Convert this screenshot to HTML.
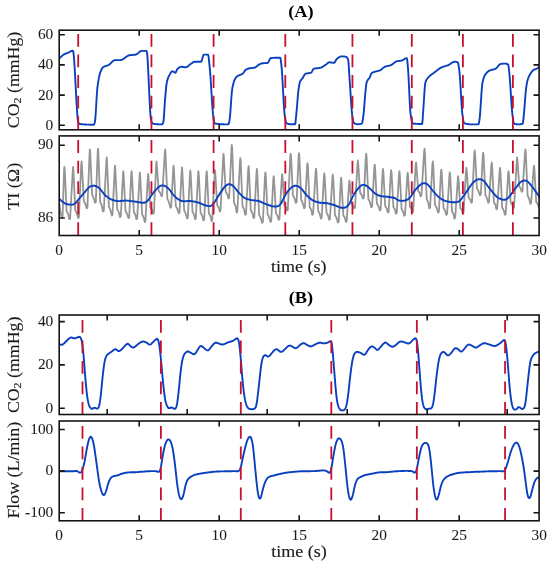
<!DOCTYPE html>
<html lang="en">
<head>
<meta charset="utf-8">
<title>Figure</title>
<style>
html,body{margin:0;padding:0;background:#fff;}
svg{display:block;}
text{font-family:"Liberation Serif","DejaVu Serif",serif;fill:#1a1a1a;stroke:#1a1a1a;stroke-width:0.3px;}
.tk{font-size:14px;stroke-width:0.05px;}
.lb{font-size:16.2px;stroke-width:0.12px;}
.sub{font-size:11px;}
.ti{font-size:16.4px;font-weight:bold;fill:#000;stroke:none;}
</style>
</head>
<body>
<svg width="550" height="565" viewBox="0 0 550 565">
<rect x="0" y="0" width="550" height="565" fill="#ffffff"/>
<clipPath id="c30"><rect x="59.2" y="30.2" width="479.90000000000003" height="99.60000000000001"/></clipPath>
<polyline clip-path="url(#c30)" points="59.0,58.9 59.4,58.4 59.8,58.0 60.2,57.6 60.6,57.1 61.0,56.7 61.4,56.4 61.8,56.0 62.2,55.7 62.6,55.3 63.0,55.1 63.4,54.8 63.8,54.5 64.2,54.3 64.6,54.1 65.0,53.9 65.4,53.8 65.8,53.6 66.2,53.4 66.6,53.3 67.0,53.1 67.4,53.0 67.8,52.8 68.2,52.7 68.6,52.5 69.0,52.3 69.4,52.0 69.8,51.8 70.2,51.6 70.6,51.4 71.0,51.2 71.4,51.0 71.8,50.9 72.2,50.8 72.6,50.7 73.0,50.8 73.4,52.3 73.8,55.7 74.2,60.6 74.6,66.7 75.0,73.7 75.4,81.2 75.8,88.9 76.2,96.5 76.6,103.8 77.0,110.3 77.4,115.7 77.8,119.8 78.2,122.2 78.6,123.1 79.0,123.6 79.4,123.8 79.8,123.9 80.2,124.0 80.6,124.1 81.0,124.2 81.4,124.2 81.8,124.3 82.2,124.3 82.6,124.3 83.0,124.4 83.4,124.4 83.8,124.4 84.2,124.4 84.6,124.5 85.0,124.5 85.4,124.5 85.8,124.5 86.2,124.5 86.6,124.6 87.0,124.6 87.4,124.6 87.8,124.6 88.2,124.6 88.6,124.6 89.0,124.6 89.4,124.6 89.8,124.7 90.2,124.7 90.6,124.7 91.0,124.7 91.4,124.7 91.8,124.7 92.2,124.7 92.6,124.7 93.0,124.7 93.4,124.7 93.8,124.7 94.2,124.2 94.6,123.0 95.0,121.3 95.4,117.7 95.8,112.1 96.2,105.5 96.6,98.6 97.0,92.4 97.4,87.7 97.8,84.7 98.2,82.0 98.6,79.6 99.0,77.4 99.4,75.6 99.8,74.0 100.2,72.7 100.6,71.6 101.0,70.6 101.4,69.7 101.8,68.9 102.2,68.2 102.6,67.7 103.0,67.3 103.4,67.0 103.8,66.8 104.2,66.6 104.6,66.4 105.0,66.3 105.4,66.2 105.8,66.1 106.2,65.9 106.6,65.8 107.0,65.7 107.4,65.6 107.8,65.4 108.2,65.2 108.6,65.0 109.0,64.8 109.4,64.5 109.8,64.1 110.2,63.8 110.6,63.4 111.0,63.0 111.4,62.5 111.8,62.1 112.2,61.7 112.6,61.3 113.0,61.0 113.4,60.7 113.8,60.5 114.2,60.3 114.6,60.1 115.0,60.1 115.4,60.1 115.8,60.1 116.2,60.1 116.6,60.1 117.0,60.1 117.4,60.1 117.8,60.1 118.2,60.1 118.6,60.1 119.0,60.1 119.4,60.1 119.8,60.1 120.2,60.1 120.6,60.1 121.0,60.1 121.4,60.0 121.8,59.8 122.2,59.7 122.6,59.5 123.0,59.2 123.4,59.0 123.8,58.7 124.2,58.4 124.6,58.1 125.0,57.8 125.4,57.5 125.8,57.1 126.2,56.8 126.6,56.6 127.0,56.3 127.4,56.0 127.8,55.8 128.2,55.6 128.6,55.5 129.0,55.3 129.4,55.3 129.8,55.2 130.2,55.2 130.6,55.1 131.0,55.1 131.4,55.0 131.8,55.0 132.2,55.0 132.6,54.9 133.0,54.9 133.4,54.9 133.8,54.9 134.2,54.8 134.6,54.8 135.0,54.7 135.4,54.7 135.8,54.6 136.2,54.4 136.6,54.2 137.0,54.0 137.4,53.7 137.8,53.4 138.2,53.0 138.6,52.7 139.0,52.3 139.4,52.0 139.8,51.7 140.2,51.4 140.6,51.2 141.0,51.0 141.4,50.9 141.8,50.9 142.2,50.9 142.6,50.9 143.0,50.9 143.4,50.9 143.8,50.9 144.2,50.9 144.6,50.9 145.0,50.9 145.4,50.9 145.8,50.9 146.2,50.9 146.6,50.9 147.0,52.4 147.4,56.4 147.8,62.5 148.2,70.0 148.6,78.6 149.0,87.5 149.4,96.3 149.8,104.5 150.2,111.4 150.6,116.7 151.0,119.6 151.4,121.2 151.8,122.5 152.2,123.3 152.6,123.6 153.0,123.7 153.4,123.8 153.8,123.8 154.2,123.9 154.6,124.0 155.0,124.0 155.4,124.1 155.8,124.1 156.2,124.2 156.6,124.2 157.0,124.2 157.4,124.3 157.8,124.3 158.2,124.3 158.6,124.3 159.0,124.4 159.4,124.4 159.8,124.4 160.2,124.4 160.6,124.4 161.0,124.4 161.4,124.4 161.8,124.4 162.2,124.3 162.6,123.8 163.0,122.9 163.4,121.8 163.8,118.6 164.2,112.6 164.6,105.7 165.0,100.0 165.4,95.4 165.8,90.8 166.2,86.7 166.6,83.6 167.0,81.6 167.4,80.1 167.8,78.8 168.2,77.7 168.6,76.7 169.0,75.8 169.4,75.1 169.8,74.3 170.2,73.6 170.6,72.9 171.0,72.3 171.4,71.8 171.8,71.4 172.2,71.3 172.6,71.4 173.0,71.5 173.4,71.7 173.8,72.0 174.2,72.2 174.6,72.4 175.0,72.6 175.4,72.7 175.8,72.4 176.2,71.4 176.6,70.3 177.0,69.5 177.4,69.1 177.8,68.7 178.2,68.3 178.6,68.0 179.0,67.7 179.4,67.4 179.8,67.2 180.2,67.0 180.6,66.9 181.0,66.8 181.4,66.8 181.8,66.8 182.2,66.8 182.6,66.9 183.0,67.0 183.4,67.0 183.8,67.1 184.2,67.2 184.6,67.2 185.0,67.3 185.4,67.3 185.8,67.3 186.2,67.2 186.6,67.1 187.0,66.9 187.4,66.6 187.8,66.4 188.2,66.0 188.6,65.7 189.0,65.3 189.4,65.0 189.8,64.7 190.2,64.3 190.6,64.1 191.0,63.8 191.4,63.5 191.8,63.2 192.2,62.9 192.6,62.6 193.0,62.3 193.4,62.1 193.8,61.9 194.2,61.8 194.6,61.8 195.0,61.8 195.4,61.8 195.8,61.8 196.2,61.8 196.6,61.8 197.0,61.8 197.4,61.8 197.8,61.8 198.2,61.8 198.6,61.8 199.0,61.8 199.4,61.8 199.8,61.8 200.2,61.8 200.6,61.8 201.0,61.8 201.4,61.4 201.8,60.4 202.2,59.0 202.6,57.4 203.0,56.0 203.4,55.0 203.8,54.6 204.2,54.6 204.6,54.6 205.0,54.6 205.4,54.6 205.8,54.6 206.2,54.6 206.6,54.6 207.0,54.6 207.4,54.6 207.8,54.6 208.2,54.9 208.6,57.0 209.0,60.4 209.4,64.4 209.8,68.3 210.2,72.9 210.6,78.5 211.0,84.8 211.4,91.3 211.8,97.9 212.2,104.1 212.6,109.6 213.0,114.2 213.4,117.5 213.8,120.0 214.2,122.2 214.6,123.3 215.0,123.5 215.4,123.5 215.8,123.6 216.2,123.7 216.6,123.7 217.0,123.8 217.4,123.8 217.8,123.9 218.2,123.9 218.6,124.0 219.0,124.0 219.4,124.1 219.8,124.1 220.2,124.1 220.6,124.2 221.0,124.2 221.4,124.2 221.8,124.3 222.2,124.3 222.6,124.3 223.0,124.3 223.4,124.3 223.8,124.3 224.2,124.4 224.6,124.4 225.0,124.4 225.4,124.4 225.8,124.4 226.2,124.4 226.6,124.4 227.0,124.4 227.4,124.4 227.8,124.4 228.2,124.4 228.6,124.0 229.0,122.6 229.4,120.7 229.8,118.3 230.2,114.2 230.6,108.9 231.0,103.0 231.4,97.3 231.8,92.4 232.2,89.1 232.6,86.9 233.0,85.0 233.4,83.4 233.8,82.0 234.2,80.9 234.6,80.0 235.0,79.1 235.4,78.4 235.8,77.8 236.2,77.2 236.6,76.8 237.0,76.4 237.4,76.1 237.8,75.9 238.2,75.7 238.6,75.5 239.0,75.3 239.4,75.2 239.8,75.0 240.2,74.9 240.6,74.8 241.0,74.6 241.4,74.4 241.8,74.2 242.2,74.0 242.6,73.7 243.0,73.3 243.4,72.8 243.8,72.3 244.2,71.7 244.6,71.1 245.0,70.6 245.4,70.1 245.8,69.8 246.2,69.6 246.6,69.3 247.0,69.1 247.4,68.9 247.8,68.8 248.2,68.6 248.6,68.5 249.0,68.4 249.4,68.3 249.8,68.3 250.2,68.2 250.6,68.2 251.0,68.1 251.4,68.1 251.8,68.1 252.2,68.0 252.6,68.0 253.0,67.9 253.4,67.9 253.8,67.8 254.2,67.8 254.6,67.7 255.0,67.5 255.4,67.3 255.8,67.0 256.2,66.7 256.6,66.4 257.0,66.1 257.4,65.7 257.8,65.4 258.2,65.1 258.6,64.8 259.0,64.6 259.4,64.4 259.8,64.2 260.2,64.0 260.6,63.8 261.0,63.6 261.4,63.5 261.8,63.4 262.2,63.3 262.6,63.2 263.0,63.2 263.4,63.2 263.8,63.2 264.2,63.1 264.6,63.1 265.0,63.1 265.4,63.1 265.8,63.1 266.2,63.0 266.6,63.0 267.0,63.0 267.4,62.9 267.8,62.8 268.2,62.4 268.6,61.7 269.0,60.9 269.4,60.0 269.8,59.2 270.2,58.6 270.6,58.2 271.0,58.1 271.4,58.0 271.8,58.0 272.2,58.0 272.6,57.9 273.0,57.9 273.4,57.9 273.8,57.9 274.2,57.8 274.6,57.8 275.0,57.8 275.4,57.8 275.8,57.8 276.2,57.8 276.6,57.7 277.0,57.7 277.4,57.7 277.8,57.7 278.2,57.7 278.6,57.7 279.0,57.7 279.4,57.7 279.8,57.7 280.2,57.7 280.6,58.9 281.0,61.7 281.4,65.1 281.8,69.4 282.2,75.3 282.6,82.3 283.0,89.8 283.4,97.3 283.8,104.3 284.2,110.2 284.6,114.5 285.0,117.4 285.4,119.9 285.8,121.9 286.2,123.0 286.6,123.3 287.0,123.5 287.4,123.6 287.8,123.8 288.2,123.9 288.6,124.0 289.0,124.1 289.4,124.2 289.8,124.2 290.2,124.2 290.6,124.2 291.0,124.2 291.4,124.2 291.8,124.2 292.2,124.2 292.6,124.2 293.0,124.2 293.4,124.2 293.8,124.2 294.2,124.2 294.6,124.2 295.0,124.2 295.4,123.1 295.8,119.5 296.2,115.3 296.6,111.2 297.0,106.5 297.4,101.5 297.8,96.7 298.2,92.4 298.6,89.1 299.0,86.5 299.4,84.2 299.8,82.4 300.2,81.3 300.6,80.6 301.0,80.1 301.4,79.6 301.8,79.2 302.2,78.7 302.6,78.1 303.0,77.5 303.4,76.7 303.8,76.0 304.2,75.3 304.6,74.6 305.0,74.2 305.4,73.8 305.8,73.7 306.2,73.6 306.6,73.5 307.0,73.4 307.4,73.4 307.8,73.3 308.2,73.3 308.6,73.2 309.0,73.2 309.4,73.1 309.8,73.0 310.2,72.9 310.6,72.8 311.0,72.7 311.4,72.4 311.8,71.8 312.2,71.1 312.6,70.3 313.0,69.6 313.4,69.1 313.8,68.8 314.2,68.7 314.6,68.6 315.0,68.5 315.4,68.4 315.8,68.4 316.2,68.3 316.6,68.3 317.0,68.2 317.4,68.2 317.8,68.2 318.2,68.1 318.6,68.1 319.0,68.0 319.4,68.0 319.8,67.9 320.2,67.8 320.6,67.7 321.0,67.6 321.4,67.5 321.8,67.3 322.2,67.1 322.6,66.9 323.0,66.6 323.4,66.3 323.8,66.0 324.2,65.8 324.6,65.5 325.0,65.2 325.4,65.0 325.8,64.7 326.2,64.4 326.6,64.0 327.0,63.7 327.4,63.3 327.8,63.0 328.2,62.7 328.6,62.5 329.0,62.4 329.4,62.3 329.8,62.3 330.2,62.3 330.6,62.4 331.0,62.5 331.4,62.5 331.8,62.6 332.2,62.7 332.6,62.8 333.0,62.8 333.4,62.9 333.8,62.9 334.2,62.8 334.6,62.5 335.0,61.9 335.4,61.3 335.8,60.5 336.2,59.8 336.6,59.2 337.0,58.7 337.4,58.4 337.8,58.1 338.2,57.8 338.6,57.5 339.0,57.3 339.4,57.0 339.8,56.8 340.2,56.7 340.6,56.5 341.0,56.4 341.4,56.4 341.8,56.4 342.2,56.4 342.6,56.4 343.0,56.4 343.4,56.5 343.8,56.5 344.2,56.5 344.6,56.6 345.0,56.6 345.4,56.7 345.8,56.8 346.2,56.9 346.6,57.2 347.0,57.6 347.4,58.2 347.8,58.9 348.2,60.0 348.6,63.6 349.0,69.6 349.4,76.4 349.8,82.5 350.2,88.1 350.6,94.2 351.0,100.4 351.4,106.2 351.8,111.3 352.2,115.4 352.6,118.0 353.0,120.1 353.4,121.8 353.8,122.9 354.2,123.2 354.6,123.4 355.0,123.6 355.4,123.8 355.8,123.9 356.2,124.0 356.6,124.1 357.0,124.1 357.4,124.2 357.8,124.2 358.2,124.2 358.6,124.2 359.0,124.2 359.4,124.1 359.8,124.1 360.2,124.0 360.6,123.9 361.0,123.8 361.4,123.7 361.8,123.6 362.2,122.8 362.6,120.8 363.0,118.1 363.4,115.3 363.8,111.8 364.2,107.1 364.6,101.9 365.0,96.8 365.4,92.3 365.8,88.4 366.2,84.8 366.6,82.5 367.0,81.4 367.4,80.6 367.8,80.0 368.2,79.4 368.6,79.0 369.0,78.5 369.4,78.0 369.8,77.3 370.2,76.4 370.6,75.2 371.0,74.1 371.4,73.4 371.8,73.1 372.2,72.8 372.6,72.6 373.0,72.4 373.4,72.2 373.8,72.1 374.2,72.0 374.6,71.8 375.0,71.7 375.4,71.6 375.8,71.5 376.2,71.4 376.6,71.3 377.0,71.2 377.4,71.1 377.8,71.0 378.2,70.9 378.6,70.8 379.0,70.7 379.4,70.6 379.8,70.5 380.2,70.3 380.6,70.0 381.0,69.8 381.4,69.5 381.8,69.1 382.2,68.8 382.6,68.4 383.0,68.1 383.4,67.8 383.8,67.5 384.2,67.2 384.6,66.9 385.0,66.7 385.4,66.6 385.8,66.5 386.2,66.3 386.6,66.2 387.0,66.1 387.4,66.0 387.8,65.9 388.2,65.9 388.6,65.8 389.0,65.7 389.4,65.6 389.8,65.5 390.2,65.4 390.6,65.2 391.0,65.1 391.4,64.9 391.8,64.7 392.2,64.4 392.6,64.1 393.0,63.8 393.4,63.5 393.8,63.2 394.2,62.8 394.6,62.5 395.0,62.2 395.4,61.9 395.8,61.7 396.2,61.5 396.6,61.3 397.0,61.2 397.4,61.1 397.8,61.1 398.2,61.0 398.6,61.0 399.0,61.0 399.4,60.9 399.8,60.9 400.2,60.9 400.6,60.8 401.0,60.8 401.4,60.7 401.8,60.6 402.2,60.4 402.6,60.2 403.0,60.0 403.4,59.8 403.8,59.5 404.2,59.2 404.6,58.9 405.0,58.7 405.4,58.5 405.8,58.3 406.2,58.2 406.6,58.1 407.0,58.6 407.4,61.7 407.8,66.2 408.2,71.2 408.6,78.2 409.0,86.5 409.4,95.1 409.8,103.2 410.2,110.0 410.6,114.6 411.0,117.1 411.4,119.2 411.8,121.1 412.2,122.5 412.6,123.4 413.0,123.6 413.4,123.7 413.8,123.7 414.2,123.7 414.6,123.8 415.0,123.8 415.4,123.8 415.8,123.8 416.2,123.9 416.6,123.9 417.0,123.9 417.4,123.9 417.8,123.9 418.2,123.9 418.6,124.0 419.0,124.0 419.4,124.0 419.8,124.0 420.2,124.0 420.6,124.0 421.0,124.0 421.4,124.0 421.8,124.0 422.2,123.8 422.6,119.9 423.0,113.7 423.4,108.3 423.8,102.2 424.2,95.7 424.6,89.8 425.0,85.1 425.4,82.5 425.8,81.4 426.2,80.4 426.6,79.6 427.0,79.0 427.4,78.5 427.8,78.0 428.2,77.5 428.6,77.1 429.0,76.7 429.4,76.3 429.8,75.9 430.2,75.5 430.6,75.2 431.0,74.9 431.4,74.6 431.8,74.3 432.2,74.0 432.6,73.8 433.0,73.5 433.4,73.2 433.8,72.9 434.2,72.6 434.6,72.3 435.0,72.0 435.4,71.7 435.8,71.4 436.2,71.0 436.6,70.7 437.0,70.4 437.4,70.1 437.8,69.8 438.2,69.5 438.6,69.2 439.0,68.9 439.4,68.6 439.8,68.4 440.2,68.1 440.6,67.9 441.0,67.6 441.4,67.4 441.8,67.3 442.2,67.1 442.6,66.9 443.0,66.8 443.4,66.7 443.8,66.5 444.2,66.4 444.6,66.3 445.0,66.2 445.4,66.1 445.8,65.9 446.2,65.8 446.6,65.7 447.0,65.6 447.4,65.4 447.8,65.3 448.2,65.1 448.6,65.0 449.0,64.8 449.4,64.5 449.8,64.2 450.2,64.0 450.6,63.7 451.0,63.4 451.4,63.1 451.8,62.8 452.2,62.6 452.6,62.3 453.0,62.1 453.4,62.0 453.8,61.9 454.2,61.8 454.6,61.8 455.0,61.8 455.4,61.8 455.8,61.9 456.2,61.9 456.6,62.0 457.0,62.1 457.4,62.2 457.8,62.4 458.2,63.5 458.6,65.6 459.0,68.1 459.4,71.1 459.8,75.6 460.2,81.3 460.6,87.9 461.0,94.8 461.4,101.6 461.8,107.7 462.2,112.6 462.6,116.0 463.0,118.9 463.4,121.3 463.8,122.8 464.2,123.2 464.6,123.3 465.0,123.5 465.4,123.6 465.8,123.7 466.2,123.8 466.6,123.9 467.0,124.0 467.4,124.0 467.8,124.1 468.2,124.2 468.6,124.2 469.0,124.3 469.4,124.3 469.8,124.3 470.2,124.3 470.6,124.4 471.0,124.4 471.4,124.4 471.8,124.4 472.2,124.4 472.6,124.4 473.0,124.4 473.4,124.4 473.8,124.4 474.2,124.4 474.6,124.4 475.0,124.4 475.4,124.4 475.8,124.4 476.2,124.4 476.6,124.4 477.0,124.4 477.4,124.4 477.8,124.4 478.2,124.4 478.6,124.2 479.0,122.6 479.4,120.2 479.8,117.2 480.2,112.6 480.6,106.8 481.0,100.5 481.4,94.3 481.8,88.8 482.2,84.5 482.6,82.0 483.0,80.4 483.4,78.9 483.8,77.7 484.2,76.6 484.6,75.7 485.0,74.9 485.4,74.3 485.8,73.8 486.2,73.3 486.6,72.8 487.0,72.4 487.4,72.0 487.8,71.7 488.2,71.4 488.6,71.1 489.0,70.9 489.4,70.6 489.8,70.5 490.2,70.3 490.6,70.2 491.0,70.0 491.4,69.9 491.8,69.8 492.2,69.8 492.6,69.7 493.0,69.6 493.4,69.5 493.8,69.4 494.2,69.3 494.6,69.2 495.0,69.0 495.4,68.9 495.8,68.6 496.2,68.3 496.6,67.9 497.0,67.5 497.4,67.0 497.8,66.5 498.2,66.0 498.6,65.6 499.0,65.1 499.4,64.7 499.8,64.4 500.2,64.2 500.6,64.0 501.0,63.9 501.4,63.9 501.8,63.8 502.2,63.8 502.6,63.7 503.0,63.7 503.4,63.6 503.8,63.6 504.2,63.6 504.6,63.6 505.0,63.6 505.4,63.6 505.8,63.7 506.2,63.8 506.6,63.8 507.0,64.0 507.4,64.1 507.8,64.3 508.2,64.5 508.6,66.6 509.0,69.9 509.4,73.4 509.8,78.1 510.2,83.7 510.6,89.8 511.0,96.2 511.4,102.4 511.8,108.0 512.2,112.6 512.6,116.0 513.0,119.1 513.4,121.7 513.8,123.3 514.2,123.7 514.6,123.8 515.0,124.0 515.4,124.1 515.8,124.2 516.2,124.2 516.6,124.3 517.0,124.3 517.4,124.4 517.8,124.4 518.2,124.4 518.6,124.4 519.0,124.4 519.4,124.4 519.8,124.3 520.2,124.3 520.6,124.2 521.0,124.2 521.4,124.1 521.8,123.9 522.2,123.8 522.6,123.6 523.0,122.6 523.4,119.2 523.8,115.3 524.2,111.1 524.6,105.9 525.0,100.5 525.4,95.2 525.8,90.8 526.2,87.6 526.6,84.9 527.0,82.6 527.4,80.8 527.8,79.4 528.2,78.3 528.6,77.2 529.0,76.3 529.4,75.5 529.8,74.8 530.2,74.1 530.6,73.5 531.0,72.9 531.4,72.3 531.8,71.7 532.2,71.2 532.6,70.7 533.0,70.4 533.4,70.0 533.8,69.8 534.2,69.6 534.6,69.4 535.0,69.3 535.4,69.2 535.8,69.0 536.2,68.9 536.6,68.7 537.0,68.5 537.4,68.3 537.8,68.0 538.2,67.7 538.6,67.4 539.0,67.1 539.3,66.8" fill="none" stroke="#0a40c0" stroke-width="1.9" stroke-linejoin="round" stroke-linecap="round"/>
<line x1="78.2" y1="34.0" x2="78.2" y2="129.6" stroke="#c8102e" stroke-width="1.8" stroke-dasharray="12.8 7.75"/>
<line x1="151.45" y1="34.0" x2="151.45" y2="129.6" stroke="#c8102e" stroke-width="1.8" stroke-dasharray="12.8 7.75"/>
<line x1="213.6" y1="34.0" x2="213.6" y2="129.6" stroke="#c8102e" stroke-width="1.8" stroke-dasharray="12.8 7.75"/>
<line x1="285.3" y1="34.0" x2="285.3" y2="129.6" stroke="#c8102e" stroke-width="1.8" stroke-dasharray="12.8 7.75"/>
<line x1="352.45" y1="34.0" x2="352.45" y2="129.6" stroke="#c8102e" stroke-width="1.8" stroke-dasharray="12.8 7.75"/>
<line x1="411.8" y1="34.0" x2="411.8" y2="129.6" stroke="#c8102e" stroke-width="1.8" stroke-dasharray="12.8 7.75"/>
<line x1="462.9" y1="34.0" x2="462.9" y2="129.6" stroke="#c8102e" stroke-width="1.8" stroke-dasharray="12.8 7.75"/>
<line x1="512.9" y1="34.0" x2="512.9" y2="129.6" stroke="#c8102e" stroke-width="1.8" stroke-dasharray="12.8 7.75"/>
<path d="M59.2 34.8h5.6M539.1 34.8h-5.6M59.2 64.9h5.6M539.1 64.9h-5.6M59.2 95.1h5.6M539.1 95.1h-5.6M59.2 125.2h5.6M539.1 125.2h-5.6M139.2 30.2v5.6M139.2 129.8v-5.6M219.2 30.2v5.6M219.2 129.8v-5.6M299.2 30.2v5.6M299.2 129.8v-5.6M379.2 30.2v5.6M379.2 129.8v-5.6M459.2 30.2v5.6M459.2 129.8v-5.6" stroke="#141414" stroke-width="1.6" fill="none"/>
<rect x="59.2" y="30.2" width="479.90000000000003" height="99.60000000000001" fill="none" stroke="#141414" stroke-width="1.6"/>
<clipPath id="c135"><rect x="59.2" y="135.9" width="479.90000000000003" height="99.6"/></clipPath>
<polyline clip-path="url(#c135)" points="59.2,203.0 60.6,213.0 61.8,217.0 62.6,216.4 64.1,170.0 64.4,166.8 64.8,170.0 66.6,211.3 67.4,212.6 68.3,214.7 69.3,219.2 70.1,218.6 72.8,170.0 73.1,166.8 73.4,170.0 75.3,210.4 76.1,211.6 77.0,213.7 78.1,218.1 78.9,217.5 81.2,164.6 81.6,161.4 81.9,164.6 83.8,201.3 84.6,202.4 85.5,204.3 86.6,208.3 87.4,207.7 89.6,152.6 89.9,149.4 90.2,152.6 92.1,194.8 92.9,196.1 93.8,198.3 95.0,202.8 95.8,202.2 97.7,151.9 98.0,148.7 98.3,151.9 100.2,202.1 101.0,203.6 101.9,206.2 103.0,211.5 103.8,210.9 106.4,160.6 106.7,157.4 107.0,160.6 108.9,206.8 109.7,208.2 110.6,210.6 111.8,215.5 112.5,214.9 114.7,168.9 115.0,165.7 115.3,168.9 117.2,209.3 118.0,210.5 118.9,212.6 120.0,217.0 120.8,216.4 123.0,174.4 123.3,171.2 123.6,174.4 125.5,211.1 126.3,212.2 127.2,214.1 128.4,218.1 129.2,217.5 131.2,174.4 131.6,171.2 131.9,174.4 133.8,212.0 134.6,213.2 135.5,215.1 136.4,219.2 137.2,218.6 139.6,175.5 139.9,172.3 140.2,175.5 142.1,214.5 142.9,215.7 143.8,217.8 144.7,222.0 145.4,221.4 147.8,177.2 148.2,174.0 148.5,177.2 150.4,207.7 151.2,208.7 152.1,210.3 153.2,213.7 153.9,213.1 156.2,164.6 156.5,161.4 156.8,164.6 158.7,191.1 159.5,191.9 160.4,193.3 161.5,196.3 162.2,195.7 164.8,152.6 165.2,149.4 165.5,152.6 167.4,199.0 168.2,200.4 169.1,202.8 170.4,207.8 171.2,207.2 173.2,168.9 173.6,165.7 173.9,168.9 175.8,206.2 176.6,207.3 177.5,209.3 178.8,213.3 179.5,212.7 181.7,170.5 182.0,167.3 182.3,170.5 184.2,210.8 185.0,212.0 185.9,214.1 187.1,218.5 187.8,217.9 190.0,173.7 190.3,170.5 190.7,173.7 192.5,211.9 193.3,213.1 194.2,215.1 195.1,219.2 195.8,218.6 198.1,174.4 198.4,171.2 198.8,174.4 200.6,212.9 201.4,214.1 202.3,216.1 203.4,220.3 204.2,219.7 206.3,174.4 206.7,171.2 207.0,174.4 208.9,213.5 209.7,214.7 210.6,216.8 211.5,221.0 212.2,220.4 214.7,173.3 215.0,170.1 215.3,173.3 217.2,205.3 218.0,206.3 218.9,208.0 219.8,211.5 220.5,210.9 223.2,156.9 223.5,153.7 223.8,156.9 225.7,191.8 226.5,192.9 227.4,194.7 228.5,198.5 229.2,197.9 231.5,148.2 231.8,145.0 232.2,148.2 234.0,202.5 234.8,204.1 235.7,206.9 236.6,212.6 237.3,212.0 240.0,161.3 240.3,158.1 240.7,161.3 242.5,206.3 243.3,207.7 244.2,210.0 245.2,214.8 246.0,214.2 248.2,169.4 248.6,166.2 248.9,169.4 250.8,210.3 251.6,211.6 252.5,213.7 253.6,218.1 254.3,217.5 256.5,172.2 256.9,169.0 257.2,172.2 259.1,214.8 259.9,216.1 260.8,218.3 262.1,222.9 262.9,222.3 265.0,175.5 265.4,172.3 265.8,175.5 267.6,214.5 268.4,215.7 269.3,217.8 270.4,222.0 271.2,221.4 273.3,179.4 273.7,176.2 274.1,179.4 275.9,213.3 276.7,214.3 277.6,216.1 278.6,219.8 279.4,219.2 281.8,177.4 282.2,174.2 282.6,177.4 284.4,205.1 285.2,205.9 286.1,207.4 286.9,210.5 287.8,209.9 290.3,156.9 290.7,153.7 291.1,156.9 292.9,195.4 293.7,196.6 294.6,198.6 295.8,202.8 296.6,202.2 298.6,156.3 299.0,153.1 299.4,156.3 301.2,200.0 302.0,201.3 302.9,203.6 304.1,208.3 304.9,207.7 307.1,166.3 307.5,163.1 307.9,166.3 309.7,207.0 310.5,208.3 311.4,210.4 312.2,214.8 313.1,214.2 315.6,171.8 316.0,168.6 316.4,171.8 318.2,211.0 319.0,212.2 319.9,214.3 320.9,218.5 321.7,217.9 323.9,176.6 324.3,173.4 324.7,176.6 326.5,212.8 327.3,214.0 328.2,215.9 329.1,219.8 329.9,219.2 332.4,177.7 332.8,174.5 333.2,177.7 335.0,215.3 335.8,216.5 336.7,218.4 337.9,222.5 338.7,221.9 340.8,180.9 341.1,177.7 341.5,180.9 343.3,215.4 344.1,216.4 345.0,218.2 345.9,222.0 346.7,221.4 349.0,183.8 349.4,180.6 349.8,183.8 351.6,204.1 352.4,204.8 353.3,205.9 354.2,208.3 355.0,207.7 357.5,163.5 357.9,160.3 358.2,163.5 360.1,192.8 360.9,193.7 361.8,195.3 362.9,198.5 363.8,197.9 365.8,156.9 366.2,153.7 366.6,156.9 368.4,199.2 369.2,200.5 370.1,202.7 371.2,207.2 372.1,206.6 374.3,167.8 374.7,164.6 375.1,167.8 376.9,203.6 377.7,204.7 378.6,206.6 379.8,210.5 380.6,209.9 382.6,172.2 383.0,169.0 383.4,172.2 385.2,206.1 386.0,207.1 386.9,208.9 387.8,212.6 388.6,212.0 390.8,173.3 391.2,170.1 391.6,173.3 393.4,207.2 394.2,208.2 395.1,210.0 395.9,213.7 396.7,213.1 399.0,174.4 399.4,171.2 399.8,174.4 401.6,209.2 402.4,210.3 403.3,212.1 404.2,215.9 405.0,215.3 407.3,175.9 407.7,172.7 408.1,175.9 409.9,206.6 410.7,207.6 411.6,209.2 412.2,212.6 413.1,212.0 415.6,165.7 416.0,162.5 416.4,165.7 418.2,191.2 419.0,192.0 419.9,193.4 420.6,196.3 421.4,195.7 424.1,151.9 424.5,148.7 424.9,151.9 426.7,199.4 427.5,200.8 428.4,203.2 429.2,208.3 430.1,207.7 432.4,164.6 432.8,161.4 433.2,164.6 435.0,204.9 435.8,206.1 436.7,208.2 438.1,212.6 438.9,212.0 440.9,172.9 441.3,169.7 441.7,172.9 443.5,208.0 444.3,209.1 445.2,211.0 446.2,214.8 447.1,214.2 449.4,175.5 449.8,172.3 450.2,175.5 452.0,211.6 452.8,212.7 453.7,214.6 454.4,218.5 455.2,217.9 457.8,179.4 458.1,176.2 458.5,179.4 460.3,208.1 461.1,209.0 462.0,210.5 462.7,213.7 463.5,213.1 466.0,171.1 466.4,167.9 466.8,171.1 468.6,197.6 469.4,198.4 470.3,199.8 471.2,202.8 472.0,202.2 474.3,153.7 474.7,150.5 475.1,153.7 476.9,188.5 477.7,189.6 478.6,191.4 479.9,195.2 480.8,194.6 482.8,155.8 483.2,152.6 483.6,155.8 485.4,195.3 486.2,196.5 487.1,198.5 488.2,202.8 489.0,202.2 491.3,165.7 491.7,162.5 492.1,165.7 493.9,202.4 494.7,203.5 495.6,205.4 496.4,209.4 497.2,208.8 499.6,171.1 500.0,167.9 500.4,171.1 502.2,207.8 503.0,208.9 503.9,210.8 504.9,214.8 505.7,214.2 508.1,174.4 508.5,171.2 508.9,174.4 510.7,202.7 511.5,203.6 512.4,205.1 513.1,208.3 514.0,207.7 516.8,160.6 517.1,157.4 517.5,160.6 519.3,186.7 520.1,187.6 521.0,189.0 521.6,191.9 522.5,191.3 525.0,152.6 525.4,149.4 525.8,152.6 527.6,195.7 528.4,197.0 529.3,199.3 530.3,203.9 531.1,203.3 533.6,168.9 534.0,165.7 534.4,168.9 536.2,201.9 537.0,202.9 537.9,204.7 539.3,208.3" fill="none" stroke="#959595" stroke-width="1.8" stroke-linejoin="round" stroke-linecap="round"/>
<polyline clip-path="url(#c135)" points="59.0,198.2 59.5,198.8 60.0,199.3 60.5,199.9 61.0,200.4 61.5,200.9 62.0,201.3 62.5,201.7 63.0,202.1 63.5,202.5 64.0,202.8 64.5,203.1 65.0,203.4 65.5,203.6 66.0,203.9 66.5,204.0 67.0,204.2 67.5,204.3 68.0,204.4 68.5,204.5 69.0,204.5 69.5,204.6 70.0,204.6 70.5,204.6 71.0,204.6 71.5,204.6 72.0,204.6 72.5,204.6 73.0,204.5 73.5,204.3 74.0,204.1 74.5,203.8 75.0,203.5 75.5,203.0 76.0,202.5 76.5,201.9 77.0,201.3 77.5,200.7 78.0,200.1 78.5,199.5 79.0,198.9 79.5,198.3 80.0,197.7 80.5,197.1 81.0,196.5 81.5,195.9 82.0,195.4 82.5,194.8 83.0,194.2 83.5,193.6 84.0,193.0 84.5,192.4 85.0,191.8 85.5,191.2 86.0,190.6 86.5,190.0 87.0,189.4 87.5,188.8 88.0,188.3 88.5,187.8 89.0,187.3 89.5,186.9 90.0,186.6 90.5,186.4 91.0,186.2 91.5,186.0 92.0,185.9 92.5,185.8 93.0,185.8 93.5,185.8 94.0,185.8 94.5,185.8 95.0,185.9 95.5,186.0 96.0,186.2 96.5,186.4 97.0,186.6 97.5,186.9 98.0,187.2 98.5,187.6 99.0,188.0 99.5,188.4 100.0,188.9 100.5,189.5 101.0,190.1 101.5,190.7 102.0,191.4 102.5,192.0 103.0,192.7 103.5,193.3 104.0,193.9 104.5,194.5 105.0,195.0 105.5,195.5 106.0,195.9 106.5,196.3 107.0,196.7 107.5,197.1 108.0,197.5 108.5,197.8 109.0,198.2 109.5,198.5 110.0,198.8 110.5,199.1 111.0,199.3 111.5,199.5 112.0,199.7 112.5,199.9 113.0,200.1 113.5,200.2 114.0,200.4 114.5,200.5 115.0,200.6 115.5,200.8 116.0,200.9 116.5,200.9 117.0,201.0 117.5,201.1 118.0,201.1 118.5,201.1 119.0,201.1 119.5,201.1 120.0,201.1 120.5,201.0 121.0,201.0 121.5,200.9 122.0,200.8 122.5,200.8 123.0,200.7 123.5,200.7 124.0,200.6 124.5,200.6 125.0,200.6 125.5,200.5 126.0,200.5 126.5,200.6 127.0,200.6 127.5,200.6 128.0,200.7 128.5,200.8 129.0,200.8 129.5,200.9 130.0,200.9 130.5,201.0 131.0,201.1 131.5,201.1 132.0,201.2 132.5,201.3 133.0,201.3 133.5,201.4 134.0,201.5 134.5,201.5 135.0,201.6 135.5,201.7 136.0,201.7 136.5,201.8 137.0,201.9 137.5,202.0 138.0,202.1 138.5,202.2 139.0,202.2 139.5,202.3 140.0,202.4 140.5,202.5 141.0,202.6 141.5,202.7 142.0,202.8 142.5,202.8 143.0,202.8 143.5,202.8 144.0,202.8 144.5,202.7 145.0,202.5 145.5,202.3 146.0,202.0 146.5,201.7 147.0,201.3 147.5,200.8 148.0,200.3 148.5,199.7 149.0,199.0 149.5,198.3 150.0,197.6 150.5,196.8 151.0,196.1 151.5,195.3 152.0,194.6 152.5,193.9 153.0,193.3 153.5,192.6 154.0,192.0 154.5,191.4 155.0,190.9 155.5,190.3 156.0,189.7 156.5,189.2 157.0,188.7 157.5,188.2 158.0,187.7 158.5,187.2 159.0,186.8 159.5,186.4 160.0,186.1 160.5,185.8 161.0,185.6 161.5,185.5 162.0,185.4 162.5,185.4 163.0,185.4 163.5,185.5 164.0,185.6 164.5,185.8 165.0,186.0 165.5,186.3 166.0,186.5 166.5,186.9 167.0,187.3 167.5,187.7 168.0,188.1 168.5,188.6 169.0,189.1 169.5,189.7 170.0,190.4 170.5,191.0 171.0,191.7 171.5,192.4 172.0,193.1 172.5,193.8 173.0,194.5 173.5,195.1 174.0,195.7 174.5,196.2 175.0,196.7 175.5,197.1 176.0,197.6 176.5,198.0 177.0,198.4 177.5,198.7 178.0,199.1 178.5,199.4 179.0,199.7 179.5,200.0 180.0,200.3 180.5,200.5 181.0,200.7 181.5,200.9 182.0,201.0 182.5,201.1 183.0,201.2 183.5,201.2 184.0,201.2 184.5,201.2 185.0,201.2 185.5,201.2 186.0,201.1 186.5,201.1 187.0,201.1 187.5,201.0 188.0,201.0 188.5,201.0 189.0,201.0 189.5,201.0 190.0,201.0 190.5,201.0 191.0,201.1 191.5,201.1 192.0,201.2 192.5,201.3 193.0,201.4 193.5,201.5 194.0,201.5 194.5,201.6 195.0,201.7 195.5,201.8 196.0,202.0 196.5,202.1 197.0,202.2 197.5,202.3 198.0,202.5 198.5,202.7 199.0,202.8 199.5,203.0 200.0,203.2 200.5,203.4 201.0,203.6 201.5,203.9 202.0,204.1 202.5,204.3 203.0,204.5 203.5,204.7 204.0,204.9 204.5,205.1 205.0,205.2 205.5,205.4 206.0,205.5 206.5,205.7 207.0,205.8 207.5,205.9 208.0,206.0 208.5,206.1 209.0,206.1 209.5,206.1 210.0,206.1 210.5,206.0 211.0,205.8 211.5,205.5 212.0,205.1 212.5,204.7 213.0,204.2 213.5,203.6 214.0,202.9 214.5,202.2 215.0,201.5 215.5,200.7 216.0,199.8 216.5,199.0 217.0,198.1 217.5,197.3 218.0,196.5 218.5,195.7 219.0,194.9 219.5,194.1 220.0,193.4 220.5,192.6 221.0,191.9 221.5,191.2 222.0,190.5 222.5,189.8 223.0,189.1 223.5,188.4 224.0,187.7 224.5,187.1 225.0,186.5 225.5,186.0 226.0,185.5 226.5,185.1 227.0,184.8 227.5,184.6 228.0,184.4 228.5,184.3 229.0,184.3 229.5,184.3 230.0,184.4 230.5,184.5 231.0,184.6 231.5,184.9 232.0,185.1 232.5,185.5 233.0,185.9 233.5,186.3 234.0,186.8 234.5,187.4 235.0,188.0 235.5,188.6 236.0,189.2 236.5,189.8 237.0,190.4 237.5,191.1 238.0,191.7 238.5,192.2 239.0,192.8 239.5,193.3 240.0,193.8 240.5,194.3 241.0,194.8 241.5,195.3 242.0,195.8 242.5,196.3 243.0,196.7 243.5,197.1 244.0,197.5 244.5,197.9 245.0,198.2 245.5,198.4 246.0,198.6 246.5,198.8 247.0,199.0 247.5,199.1 248.0,199.3 248.5,199.4 249.0,199.5 249.5,199.7 250.0,199.8 250.5,199.9 251.0,200.0 251.5,200.1 252.0,200.1 252.5,200.2 253.0,200.3 253.5,200.4 254.0,200.4 254.5,200.5 255.0,200.5 255.5,200.5 256.0,200.6 256.5,200.6 257.0,200.7 257.5,200.8 258.0,200.9 258.5,201.0 259.0,201.2 259.5,201.3 260.0,201.5 260.5,201.7 261.0,201.9 261.5,202.2 262.0,202.4 262.5,202.6 263.0,202.9 263.5,203.1 264.0,203.3 264.5,203.5 265.0,203.7 265.5,203.9 266.0,204.1 266.5,204.3 267.0,204.5 267.5,204.7 268.0,204.8 268.5,205.0 269.0,205.2 269.5,205.3 270.0,205.5 270.5,205.7 271.0,205.8 271.5,206.0 272.0,206.1 272.5,206.3 273.0,206.4 273.5,206.4 274.0,206.5 274.5,206.5 275.0,206.5 275.5,206.5 276.0,206.5 276.5,206.5 277.0,206.4 277.5,206.3 278.0,206.1 278.5,205.9 279.0,205.6 279.5,205.2 280.0,204.7 280.5,204.1 281.0,203.4 281.5,202.6 282.0,201.7 282.5,200.8 283.0,199.7 283.5,198.7 284.0,197.6 284.5,196.6 285.0,195.7 285.5,194.8 286.0,193.9 286.5,193.2 287.0,192.5 287.5,191.8 288.0,191.2 288.5,190.6 289.0,190.0 289.5,189.4 290.0,188.8 290.5,188.3 291.0,187.9 291.5,187.4 292.0,187.0 292.5,186.7 293.0,186.4 293.5,186.2 294.0,186.0 294.5,185.8 295.0,185.8 295.5,185.7 296.0,185.8 296.5,185.9 297.0,186.0 297.5,186.1 298.0,186.3 298.5,186.6 299.0,186.9 299.5,187.2 300.0,187.6 300.5,188.0 301.0,188.4 301.5,188.9 302.0,189.4 302.5,190.0 303.0,190.6 303.5,191.3 304.0,191.9 304.5,192.6 305.0,193.2 305.5,193.8 306.0,194.5 306.5,195.0 307.0,195.6 307.5,196.1 308.0,196.6 308.5,197.0 309.0,197.5 309.5,197.9 310.0,198.3 310.5,198.7 311.0,199.1 311.5,199.5 312.0,199.9 312.5,200.2 313.0,200.5 313.5,200.7 314.0,201.0 314.5,201.2 315.0,201.4 315.5,201.6 316.0,201.7 316.5,201.9 317.0,202.0 317.5,202.2 318.0,202.3 318.5,202.4 319.0,202.5 319.5,202.6 320.0,202.7 320.5,202.8 321.0,202.8 321.5,202.9 322.0,202.9 322.5,202.9 323.0,203.0 323.5,203.0 324.0,203.0 324.5,203.0 325.0,203.0 325.5,203.1 326.0,203.1 326.5,203.2 327.0,203.2 327.5,203.3 328.0,203.4 328.5,203.5 329.0,203.6 329.5,203.8 330.0,203.9 330.5,204.0 331.0,204.1 331.5,204.3 332.0,204.4 332.5,204.6 333.0,204.7 333.5,204.9 334.0,205.0 334.5,205.2 335.0,205.4 335.5,205.6 336.0,205.8 336.5,206.0 337.0,206.2 337.5,206.4 338.0,206.6 338.5,206.8 339.0,207.0 339.5,207.2 340.0,207.4 340.5,207.6 341.0,207.7 341.5,207.8 342.0,207.9 342.5,207.9 343.0,207.9 343.5,207.8 344.0,207.8 344.5,207.7 345.0,207.5 345.5,207.4 346.0,207.1 346.5,206.8 347.0,206.5 347.5,206.0 348.0,205.5 348.5,204.9 349.0,204.2 349.5,203.4 350.0,202.5 350.5,201.5 351.0,200.4 351.5,199.3 352.0,198.2 352.5,197.2 353.0,196.1 353.5,195.2 354.0,194.3 354.5,193.5 355.0,192.8 355.5,192.0 356.0,191.3 356.5,190.6 357.0,189.9 357.5,189.3 358.0,188.7 358.5,188.1 359.0,187.5 359.5,187.0 360.0,186.5 360.5,186.1 361.0,185.7 361.5,185.4 362.0,185.2 362.5,185.0 363.0,184.9 363.5,184.9 364.0,184.9 364.5,185.0 365.0,185.2 365.5,185.4 366.0,185.6 366.5,185.9 367.0,186.2 367.5,186.5 368.0,186.9 368.5,187.3 369.0,187.7 369.5,188.1 370.0,188.6 370.5,189.1 371.0,189.6 371.5,190.1 372.0,190.6 372.5,191.2 373.0,191.7 373.5,192.2 374.0,192.6 374.5,193.0 375.0,193.4 375.5,193.8 376.0,194.1 376.5,194.4 377.0,194.6 377.5,194.9 378.0,195.1 378.5,195.3 379.0,195.5 379.5,195.7 380.0,195.9 380.5,196.0 381.0,196.1 381.5,196.2 382.0,196.3 382.5,196.4 383.0,196.4 383.5,196.5 384.0,196.5 384.5,196.6 385.0,196.6 385.5,196.6 386.0,196.7 386.5,196.7 387.0,196.7 387.5,196.8 388.0,196.8 388.5,196.9 389.0,197.0 389.5,197.0 390.0,197.1 390.5,197.2 391.0,197.3 391.5,197.4 392.0,197.5 392.5,197.5 393.0,197.6 393.5,197.7 394.0,197.8 394.5,198.0 395.0,198.2 395.5,198.4 396.0,198.8 396.5,199.2 397.0,199.5 397.5,199.9 398.0,200.2 398.5,200.4 399.0,200.5 399.5,200.6 400.0,200.7 400.5,200.8 401.0,200.9 401.5,200.9 402.0,200.9 402.5,200.9 403.0,200.8 403.5,200.8 404.0,200.7 404.5,200.6 405.0,200.5 405.5,200.4 406.0,200.2 406.5,200.0 407.0,199.8 407.5,199.5 408.0,199.2 408.5,198.9 409.0,198.5 409.5,198.0 410.0,197.5 410.5,196.9 411.0,196.3 411.5,195.6 412.0,194.8 412.5,194.1 413.0,193.3 413.5,192.5 414.0,191.8 414.5,191.0 415.0,190.3 415.5,189.7 416.0,189.1 416.5,188.5 417.0,188.0 417.5,187.5 418.0,187.0 418.5,186.5 419.0,186.0 419.5,185.5 420.0,185.1 420.5,184.7 421.0,184.3 421.5,184.0 422.0,183.7 422.5,183.5 423.0,183.3 423.5,183.2 424.0,183.2 424.5,183.2 425.0,183.2 425.5,183.4 426.0,183.5 426.5,183.8 427.0,184.1 427.5,184.4 428.0,184.8 428.5,185.3 429.0,185.8 429.5,186.4 430.0,187.1 430.5,187.7 431.0,188.4 431.5,189.0 432.0,189.7 432.5,190.4 433.0,191.0 433.5,191.6 434.0,192.2 434.5,192.7 435.0,193.3 435.5,193.8 436.0,194.3 436.5,194.9 437.0,195.4 437.5,195.9 438.0,196.3 438.5,196.8 439.0,197.2 439.5,197.7 440.0,198.1 440.5,198.4 441.0,198.8 441.5,199.1 442.0,199.4 442.5,199.7 443.0,199.9 443.5,200.2 444.0,200.4 444.5,200.6 445.0,200.8 445.5,200.9 446.0,201.1 446.5,201.2 447.0,201.4 447.5,201.5 448.0,201.6 448.5,201.7 449.0,201.8 449.5,201.9 450.0,202.0 450.5,202.1 451.0,202.1 451.5,202.2 452.0,202.2 452.5,202.2 453.0,202.2 453.5,202.2 454.0,202.2 454.5,202.2 455.0,202.2 455.5,202.2 456.0,202.2 456.5,202.1 457.0,202.1 457.5,201.9 458.0,201.8 458.5,201.6 459.0,201.3 459.5,200.9 460.0,200.5 460.5,200.0 461.0,199.4 461.5,198.8 462.0,198.2 462.5,197.5 463.0,196.8 463.5,196.1 464.0,195.4 464.5,194.7 465.0,194.0 465.5,193.3 466.0,192.6 466.5,191.8 467.0,191.1 467.5,190.4 468.0,189.6 468.5,188.9 469.0,188.1 469.5,187.3 470.0,186.6 470.5,185.9 471.0,185.2 471.5,184.5 472.0,183.9 472.5,183.3 473.0,182.7 473.5,182.2 474.0,181.8 474.5,181.3 475.0,180.9 475.5,180.6 476.0,180.2 476.5,180.0 477.0,179.7 477.5,179.5 478.0,179.4 478.5,179.3 479.0,179.2 479.5,179.2 480.0,179.2 480.5,179.3 481.0,179.4 481.5,179.6 482.0,179.7 482.5,180.0 483.0,180.3 483.5,180.6 484.0,181.1 484.5,181.6 485.0,182.2 485.5,182.9 486.0,183.6 486.5,184.3 487.0,185.0 487.5,185.7 488.0,186.4 488.5,187.0 489.0,187.7 489.5,188.3 490.0,189.0 490.5,189.6 491.0,190.2 491.5,190.8 492.0,191.4 492.5,192.0 493.0,192.6 493.5,193.2 494.0,193.8 494.5,194.4 495.0,194.9 495.5,195.5 496.0,196.0 496.5,196.5 497.0,196.9 497.5,197.3 498.0,197.7 498.5,198.0 499.0,198.3 499.5,198.5 500.0,198.7 500.5,198.9 501.0,199.1 501.5,199.3 502.0,199.5 502.5,199.6 503.0,199.7 503.5,199.8 504.0,199.8 504.5,199.8 505.0,199.7 505.5,199.5 506.0,199.3 506.5,199.1 507.0,198.8 507.5,198.4 508.0,198.0 508.5,197.5 509.0,197.0 509.5,196.4 510.0,195.8 510.5,195.1 511.0,194.4 511.5,193.7 512.0,193.0 512.5,192.3 513.0,191.6 513.5,190.9 514.0,190.2 514.5,189.5 515.0,188.9 515.5,188.2 516.0,187.6 516.5,186.9 517.0,186.3 517.5,185.6 518.0,185.0 518.5,184.4 519.0,183.8 519.5,183.2 520.0,182.7 520.5,182.2 521.0,181.8 521.5,181.5 522.0,181.2 522.5,181.0 523.0,180.8 523.5,180.7 524.0,180.6 524.5,180.5 525.0,180.5 525.5,180.6 526.0,180.7 526.5,180.9 527.0,181.2 527.5,181.5 528.0,181.9 528.5,182.4 529.0,182.9 529.5,183.5 530.0,184.0 530.5,184.6 531.0,185.2 531.5,185.9 532.0,186.5 532.5,187.1 533.0,187.8 533.5,188.5 534.0,189.1 534.5,189.8 535.0,190.5 535.5,191.2 536.0,191.9 536.5,192.7 537.0,193.4 537.5,194.1 538.0,194.8 538.5,195.6 539.0,196.3 539.3,196.8" fill="none" stroke="#0a40c0" stroke-width="1.9" stroke-linejoin="round" stroke-linecap="round"/>
<line x1="78.2" y1="140.1" x2="78.2" y2="235.2" stroke="#c8102e" stroke-width="1.8" stroke-dasharray="12.8 7.75"/>
<line x1="151.45" y1="140.1" x2="151.45" y2="235.2" stroke="#c8102e" stroke-width="1.8" stroke-dasharray="12.8 7.75"/>
<line x1="213.6" y1="140.1" x2="213.6" y2="235.2" stroke="#c8102e" stroke-width="1.8" stroke-dasharray="12.8 7.75"/>
<line x1="285.3" y1="140.1" x2="285.3" y2="235.2" stroke="#c8102e" stroke-width="1.8" stroke-dasharray="12.8 7.75"/>
<line x1="352.45" y1="140.1" x2="352.45" y2="235.2" stroke="#c8102e" stroke-width="1.8" stroke-dasharray="12.8 7.75"/>
<line x1="411.8" y1="140.1" x2="411.8" y2="235.2" stroke="#c8102e" stroke-width="1.8" stroke-dasharray="12.8 7.75"/>
<line x1="462.9" y1="140.1" x2="462.9" y2="235.2" stroke="#c8102e" stroke-width="1.8" stroke-dasharray="12.8 7.75"/>
<line x1="512.9" y1="140.1" x2="512.9" y2="235.2" stroke="#c8102e" stroke-width="1.8" stroke-dasharray="12.8 7.75"/>
<path d="M59.2 145.2h5.6M539.1 145.2h-5.6M59.2 218.0h5.6M539.1 218.0h-5.6M139.2 135.9v5.6M139.2 235.5v-5.6M219.2 135.9v5.6M219.2 235.5v-5.6M299.2 135.9v5.6M299.2 235.5v-5.6M379.2 135.9v5.6M379.2 235.5v-5.6M459.2 135.9v5.6M459.2 235.5v-5.6" stroke="#141414" stroke-width="1.6" fill="none"/>
<rect x="59.2" y="135.9" width="479.90000000000003" height="99.6" fill="none" stroke="#141414" stroke-width="1.6"/>
<clipPath id="c315"><rect x="59.2" y="315.0" width="479.90000000000003" height="99.5"/></clipPath>
<polyline clip-path="url(#c315)" points="59.0,343.7 59.5,344.1 60.0,344.5 60.5,344.7 61.0,344.9 61.5,344.9 62.0,344.8 62.5,344.6 63.0,344.2 63.5,343.8 64.0,343.4 64.5,343.0 65.0,342.5 65.5,342.0 66.0,341.5 66.5,341.0 67.0,340.5 67.5,340.0 68.0,339.5 68.5,339.0 69.0,338.6 69.5,338.2 70.0,337.9 70.5,337.6 71.0,337.5 71.5,337.5 72.0,337.6 72.5,337.8 73.0,338.0 73.5,338.2 74.0,338.3 74.5,338.4 75.0,338.4 75.5,338.3 76.0,338.1 76.5,337.9 77.0,337.7 77.5,337.4 78.0,337.2 78.5,337.0 79.0,336.9 79.5,336.8 80.0,337.0 80.5,337.6 81.0,338.6 81.5,340.1 82.0,342.3 82.5,345.5 83.0,349.7 83.5,354.7 84.0,360.6 84.5,367.1 85.0,373.7 85.5,379.8 86.0,385.3 86.5,390.2 87.0,394.6 87.5,398.3 88.0,401.1 88.5,403.4 89.0,405.1 89.5,406.4 90.0,407.2 90.5,407.9 91.0,408.4 91.5,408.7 92.0,408.8 92.5,408.7 93.0,408.4 93.5,408.1 94.0,407.9 94.5,407.8 95.0,407.9 95.5,408.0 96.0,408.3 96.5,408.5 97.0,408.6 97.5,408.6 98.0,408.3 98.5,407.5 99.0,406.3 99.5,404.3 100.0,401.4 100.5,397.6 101.0,393.3 101.5,388.4 102.0,383.2 102.5,378.0 103.0,373.3 103.5,369.1 104.0,365.4 104.5,362.3 105.0,359.9 105.5,358.1 106.0,356.8 106.5,355.8 107.0,355.1 107.5,354.6 108.0,354.2 108.5,353.8 109.0,353.4 109.5,353.1 110.0,352.7 110.5,352.4 111.0,352.0 111.5,351.7 112.0,351.3 112.5,350.9 113.0,350.5 113.5,350.1 114.0,349.8 114.5,349.5 115.0,349.3 115.5,349.2 116.0,349.4 116.5,349.7 117.0,350.1 117.5,350.4 118.0,350.8 118.5,351.0 119.0,351.1 119.5,351.0 120.0,350.7 120.5,350.3 121.0,349.9 121.5,349.5 122.0,349.0 122.5,348.4 123.0,347.9 123.5,347.3 124.0,346.8 124.5,346.2 125.0,345.7 125.5,345.1 126.0,344.7 126.5,344.3 127.0,344.0 127.5,343.8 128.0,343.8 128.5,344.2 129.0,344.7 129.5,345.2 130.0,345.7 130.5,346.2 131.0,346.5 131.5,346.9 132.0,347.2 132.5,347.4 133.0,347.5 133.5,347.5 134.0,347.3 134.5,347.1 135.0,346.7 135.5,346.4 136.0,345.9 136.5,345.5 137.0,345.1 137.5,344.6 138.0,344.2 138.5,343.8 139.0,343.4 139.5,343.1 140.0,342.7 140.5,342.4 141.0,342.1 141.5,341.9 142.0,341.7 142.5,341.6 143.0,341.5 143.5,341.5 144.0,341.6 144.5,341.8 145.0,341.9 145.5,342.2 146.0,342.4 146.5,342.6 147.0,342.9 147.5,343.3 148.0,343.7 148.5,344.1 149.0,344.4 149.5,344.6 150.0,344.6 150.5,344.4 151.0,344.1 151.5,343.7 152.0,343.2 152.5,342.7 153.0,342.2 153.5,341.7 154.0,341.2 154.5,340.7 155.0,340.2 155.5,339.8 156.0,339.4 156.5,339.0 157.0,338.8 157.5,339.1 158.0,339.8 158.5,341.2 159.0,343.5 159.5,346.6 160.0,350.5 160.5,355.1 161.0,360.0 161.5,365.5 162.0,371.2 162.5,376.8 163.0,382.0 163.5,386.8 164.0,391.2 164.5,395.1 165.0,398.4 165.5,401.0 166.0,403.0 166.5,404.6 167.0,405.7 167.5,406.7 168.0,407.5 168.5,408.0 169.0,408.2 169.5,408.2 170.0,408.0 170.5,407.8 171.0,407.6 171.5,407.5 172.0,407.6 172.5,407.8 173.0,408.1 173.5,408.4 174.0,408.7 174.5,408.9 175.0,408.9 175.5,408.5 176.0,407.7 176.5,406.3 177.0,404.2 177.5,401.1 178.0,397.2 178.5,392.9 179.0,388.1 179.5,382.9 180.0,377.7 180.5,372.8 181.0,368.7 181.5,365.1 182.0,362.0 182.5,359.6 183.0,357.7 183.5,356.2 184.0,354.9 184.5,354.0 185.0,353.3 185.5,352.8 186.0,352.3 186.5,351.9 187.0,351.6 187.5,351.5 188.0,351.5 188.5,351.7 189.0,351.8 189.5,352.1 190.0,352.3 190.5,352.6 191.0,352.9 191.5,353.2 192.0,353.5 192.5,353.8 193.0,354.0 193.5,354.2 194.0,354.2 194.5,354.1 195.0,353.8 195.5,353.2 196.0,352.5 196.5,351.7 197.0,350.8 197.5,350.0 198.0,349.2 198.5,348.5 199.0,347.7 199.5,347.0 200.0,346.4 200.5,346.1 201.0,346.0 201.5,346.1 202.0,346.4 202.5,346.7 203.0,347.1 203.5,347.5 204.0,347.9 204.5,348.4 205.0,348.8 205.5,349.3 206.0,349.7 206.5,350.0 207.0,350.3 207.5,350.4 208.0,350.4 208.5,350.1 209.0,349.7 209.5,349.2 210.0,348.5 210.5,347.8 211.0,347.1 211.5,346.5 212.0,345.9 212.5,345.3 213.0,344.7 213.5,344.2 214.0,343.7 214.5,343.3 215.0,342.9 215.5,342.7 216.0,342.7 216.5,342.7 217.0,342.8 217.5,343.0 218.0,343.2 218.5,343.4 219.0,343.6 219.5,343.8 220.0,344.0 220.5,344.1 221.0,344.3 221.5,344.4 222.0,344.5 222.5,344.5 223.0,344.5 223.5,344.4 224.0,344.2 224.5,344.0 225.0,343.8 225.5,343.5 226.0,343.3 226.5,343.0 227.0,342.8 227.5,342.6 228.0,342.4 228.5,342.2 229.0,342.1 229.5,341.9 230.0,341.8 230.5,341.7 231.0,341.5 231.5,341.4 232.0,341.2 232.5,341.0 233.0,340.8 233.5,340.5 234.0,340.2 234.5,339.8 235.0,339.4 235.5,339.1 236.0,338.7 236.5,338.5 237.0,338.3 237.5,338.5 238.0,339.1 238.5,340.4 239.0,342.6 239.5,346.0 240.0,350.5 240.5,355.8 241.0,361.7 241.5,368.0 242.0,374.1 242.5,379.8 243.0,384.8 243.5,389.4 244.0,393.3 244.5,396.7 245.0,399.5 245.5,401.9 246.0,403.8 246.5,405.3 247.0,406.4 247.5,407.2 248.0,407.8 248.5,408.3 249.0,408.6 249.5,408.8 250.0,409.0 250.5,409.1 251.0,409.2 251.5,409.2 252.0,409.2 252.5,409.2 253.0,409.1 253.5,409.0 254.0,408.8 254.5,408.6 255.0,408.3 255.5,407.6 256.0,406.4 256.5,404.3 257.0,401.3 257.5,397.7 258.0,393.5 258.5,389.1 259.0,384.6 259.5,379.9 260.0,375.2 260.5,370.7 261.0,366.7 261.5,363.3 262.0,360.7 262.5,358.7 263.0,357.3 263.5,356.4 264.0,355.8 264.5,355.4 265.0,355.2 265.5,355.2 266.0,355.4 266.5,355.8 267.0,356.1 267.5,356.5 268.0,356.6 268.5,356.5 269.0,356.2 269.5,355.8 270.0,355.3 270.5,354.7 271.0,354.1 271.5,353.5 272.0,352.9 272.5,352.3 273.0,351.7 273.5,351.1 274.0,350.6 274.5,350.2 275.0,349.8 275.5,349.5 276.0,349.2 276.5,349.2 277.0,349.4 277.5,349.6 278.0,349.9 278.5,350.3 279.0,350.8 279.5,351.2 280.0,351.6 280.5,351.8 281.0,351.9 281.5,351.8 282.0,351.6 282.5,351.3 283.0,350.9 283.5,350.5 284.0,350.1 284.5,349.6 285.0,349.1 285.5,348.6 286.0,348.1 286.5,347.6 287.0,347.1 287.5,346.6 288.0,346.2 288.5,345.9 289.0,345.7 289.5,345.6 290.0,345.6 290.5,345.7 291.0,345.9 291.5,346.2 292.0,346.4 292.5,346.7 293.0,347.0 293.5,347.3 294.0,347.6 294.5,347.9 295.0,348.1 295.5,348.2 296.0,348.2 296.5,348.0 297.0,347.7 297.5,347.3 298.0,346.9 298.5,346.4 299.0,345.9 299.5,345.4 300.0,345.0 300.5,344.6 301.0,344.2 301.5,343.9 302.0,343.6 302.5,343.4 303.0,343.2 303.5,343.2 304.0,343.2 304.5,343.4 305.0,343.6 305.5,343.9 306.0,344.2 306.5,344.6 307.0,344.9 307.5,345.2 308.0,345.5 308.5,345.7 309.0,346.0 309.5,346.2 310.0,346.3 310.5,346.4 311.0,346.4 311.5,346.3 312.0,346.1 312.5,345.9 313.0,345.7 313.5,345.4 314.0,345.1 314.5,344.8 315.0,344.5 315.5,344.2 316.0,344.0 316.5,343.8 317.0,343.5 317.5,343.3 318.0,343.1 318.5,343.0 319.0,342.8 319.5,342.7 320.0,342.7 320.5,342.7 321.0,342.8 321.5,342.9 322.0,343.0 322.5,343.2 323.0,343.3 323.5,343.4 324.0,343.4 324.5,343.4 325.0,343.3 325.5,343.2 326.0,343.1 326.5,343.0 327.0,342.8 327.5,342.6 328.0,342.4 328.5,342.1 329.0,341.8 329.5,341.5 330.0,341.2 330.5,341.2 331.0,341.5 331.5,342.7 332.0,345.4 332.5,350.1 333.0,355.6 333.5,361.7 334.0,368.0 334.5,374.2 335.0,380.4 335.5,386.3 336.0,391.9 336.5,396.6 337.0,400.3 337.5,403.0 338.0,405.0 338.5,406.6 339.0,407.8 339.5,408.8 340.0,409.5 340.5,409.9 341.0,410.2 341.5,410.3 342.0,410.4 342.5,410.5 343.0,410.4 343.5,410.3 344.0,410.1 344.5,409.7 345.0,409.0 345.5,408.1 346.0,406.8 346.5,405.0 347.0,402.5 347.5,399.4 348.0,395.9 348.5,391.8 349.0,387.3 349.5,382.6 350.0,378.1 350.5,373.8 351.0,369.9 351.5,366.3 352.0,363.0 352.5,360.2 353.0,357.9 353.5,356.1 354.0,354.7 354.5,353.7 355.0,353.1 355.5,352.6 356.0,352.2 356.5,352.0 357.0,351.9 357.5,351.9 358.0,352.0 358.5,352.1 359.0,352.3 359.5,352.4 360.0,352.6 360.5,352.8 361.0,353.1 361.5,353.4 362.0,353.7 362.5,354.1 363.0,354.4 363.5,354.6 364.0,354.7 364.5,354.7 365.0,354.4 365.5,353.9 366.0,353.2 366.5,352.3 367.0,351.5 367.5,350.7 368.0,350.0 368.5,349.3 369.0,348.6 369.5,348.0 370.0,347.5 370.5,347.0 371.0,346.7 371.5,346.5 372.0,346.5 372.5,346.5 373.0,346.7 373.5,347.0 374.0,347.3 374.5,347.6 375.0,348.1 375.5,348.7 376.0,349.2 376.5,349.7 377.0,350.0 377.5,349.9 378.0,349.7 378.5,349.3 379.0,348.8 379.5,348.2 380.0,347.7 380.5,347.1 381.0,346.5 381.5,345.9 382.0,345.3 382.5,344.7 383.0,344.2 383.5,343.7 384.0,343.3 384.5,342.9 385.0,342.6 385.5,342.5 386.0,342.7 386.5,343.0 387.0,343.4 387.5,343.8 388.0,344.3 388.5,344.6 389.0,345.0 389.5,345.4 390.0,345.7 390.5,346.0 391.0,346.3 391.5,346.5 392.0,346.7 392.5,346.7 393.0,346.7 393.5,346.5 394.0,346.2 394.5,345.9 395.0,345.6 395.5,345.2 396.0,344.8 396.5,344.4 397.0,344.0 397.5,343.5 398.0,343.0 398.5,342.6 399.0,342.2 399.5,341.9 400.0,341.7 400.5,341.6 401.0,341.5 401.5,341.5 402.0,341.6 402.5,341.7 403.0,341.8 403.5,341.9 404.0,342.1 404.5,342.3 405.0,342.5 405.5,342.7 406.0,342.9 406.5,343.1 407.0,343.3 407.5,343.4 408.0,343.5 408.5,343.5 409.0,343.4 409.5,343.2 410.0,342.8 410.5,342.4 411.0,341.9 411.5,341.3 412.0,340.8 412.5,340.3 413.0,339.9 413.5,339.4 414.0,339.1 414.5,338.7 415.0,338.4 415.5,338.3 416.0,338.7 416.5,339.9 417.0,342.1 417.5,345.7 418.0,350.6 418.5,356.4 419.0,362.8 419.5,369.6 420.0,376.5 420.5,383.0 421.0,388.8 421.5,393.9 422.0,398.2 422.5,401.6 423.0,404.2 423.5,406.0 424.0,407.3 424.5,408.1 425.0,408.6 425.5,409.0 426.0,409.2 426.5,409.3 427.0,409.2 427.5,409.1 428.0,409.0 428.5,408.9 429.0,408.7 429.5,408.6 430.0,408.6 430.5,408.5 431.0,408.4 431.5,408.0 432.0,407.3 432.5,406.3 433.0,404.5 433.5,401.8 434.0,398.4 434.5,394.5 435.0,390.4 435.5,385.8 436.0,381.2 436.5,376.7 437.0,372.5 437.5,368.7 438.0,365.2 438.5,362.1 439.0,359.6 439.5,357.5 440.0,355.8 440.5,354.5 441.0,353.6 441.5,353.0 442.0,352.5 442.5,352.2 443.0,352.0 443.5,352.0 444.0,352.1 444.5,352.4 445.0,352.9 445.5,353.4 446.0,354.0 446.5,354.5 447.0,355.0 447.5,355.3 448.0,355.4 448.5,355.3 449.0,355.1 449.5,354.7 450.0,354.2 450.5,353.7 451.0,353.1 451.5,352.5 452.0,351.9 452.5,351.2 453.0,350.5 453.5,349.8 454.0,349.2 454.5,348.7 455.0,348.3 455.5,348.1 456.0,348.1 456.5,348.3 457.0,348.5 457.5,348.9 458.0,349.2 458.5,349.6 459.0,350.1 459.5,350.5 460.0,351.0 460.5,351.3 461.0,351.5 461.5,351.5 462.0,351.3 462.5,350.9 463.0,350.4 463.5,349.8 464.0,349.1 464.5,348.5 465.0,347.8 465.5,347.3 466.0,346.7 466.5,346.1 467.0,345.6 467.5,345.2 468.0,344.8 468.5,344.6 469.0,344.5 469.5,344.6 470.0,344.7 470.5,345.0 471.0,345.2 471.5,345.5 472.0,345.8 472.5,346.1 473.0,346.4 473.5,346.7 474.0,346.9 474.5,347.2 475.0,347.3 475.5,347.5 476.0,347.5 476.5,347.5 477.0,347.3 477.5,347.0 478.0,346.7 478.5,346.3 479.0,345.9 479.5,345.6 480.0,345.2 480.5,344.9 481.0,344.6 481.5,344.3 482.0,344.0 482.5,343.7 483.0,343.5 483.5,343.3 484.0,343.2 484.5,343.2 485.0,343.2 485.5,343.3 486.0,343.4 486.5,343.6 487.0,343.8 487.5,343.9 488.0,344.1 488.5,344.3 489.0,344.4 489.5,344.6 490.0,344.7 490.5,344.9 491.0,345.1 491.5,345.2 492.0,345.4 492.5,345.6 493.0,345.8 493.5,345.9 494.0,346.0 494.5,346.0 495.0,346.0 495.5,345.9 496.0,345.7 496.5,345.5 497.0,345.2 497.5,344.9 498.0,344.6 498.5,344.3 499.0,344.0 499.5,343.6 500.0,343.3 500.5,342.9 501.0,342.5 501.5,342.1 502.0,341.6 502.5,341.1 503.0,340.6 503.5,340.2 504.0,339.9 504.5,339.9 505.0,340.7 505.5,342.6 506.0,345.6 506.5,349.7 507.0,354.6 507.5,360.2 508.0,366.3 508.5,372.8 509.0,379.3 509.5,385.3 510.0,390.6 510.5,395.2 511.0,399.1 511.5,402.3 512.0,404.7 512.5,406.5 513.0,407.9 513.5,408.8 514.0,409.3 514.5,409.5 515.0,409.6 515.5,409.6 516.0,409.4 516.5,409.1 517.0,408.6 517.5,408.0 518.0,407.5 518.5,407.2 519.0,407.1 519.5,407.2 520.0,407.6 520.5,408.0 521.0,408.4 521.5,408.7 522.0,409.0 522.5,409.0 523.0,408.9 523.5,408.5 524.0,407.9 524.5,406.9 525.0,405.1 525.5,402.3 526.0,398.5 526.5,394.2 527.0,389.5 527.5,384.8 528.0,380.2 528.5,375.6 529.0,371.3 529.5,367.3 530.0,363.9 530.5,361.2 531.0,359.4 531.5,358.0 532.0,357.1 532.5,356.2 533.0,355.5 533.5,354.8 534.0,354.2 534.5,353.8 535.0,353.4 535.5,353.1 536.0,352.8 536.5,352.5 537.0,352.3 537.5,352.1 538.0,351.9 538.5,351.8 539.0,351.7 539.3,351.7" fill="none" stroke="#0a40c0" stroke-width="1.9" stroke-linejoin="round" stroke-linecap="round"/>
<line x1="82.5" y1="319.9" x2="82.5" y2="414.3" stroke="#c8102e" stroke-width="1.8" stroke-dasharray="12.8 7.75"/>
<line x1="160.9" y1="319.9" x2="160.9" y2="414.3" stroke="#c8102e" stroke-width="1.8" stroke-dasharray="12.8 7.75"/>
<line x1="240.8" y1="319.9" x2="240.8" y2="414.3" stroke="#c8102e" stroke-width="1.8" stroke-dasharray="12.8 7.75"/>
<line x1="331.3" y1="319.9" x2="331.3" y2="414.3" stroke="#c8102e" stroke-width="1.8" stroke-dasharray="12.8 7.75"/>
<line x1="416.85" y1="319.9" x2="416.85" y2="414.3" stroke="#c8102e" stroke-width="1.8" stroke-dasharray="12.8 7.75"/>
<line x1="505.05" y1="319.9" x2="505.05" y2="414.3" stroke="#c8102e" stroke-width="1.8" stroke-dasharray="12.8 7.75"/>
<path d="M59.2 321.6h5.6M539.1 321.6h-5.6M59.2 364.9h5.6M539.1 364.9h-5.6M59.2 408.2h5.6M539.1 408.2h-5.6M107.2 315.0v5.6M107.2 414.5v-5.6M187.2 315.0v5.6M187.2 414.5v-5.6M267.2 315.0v5.6M267.2 414.5v-5.6M347.2 315.0v5.6M347.2 414.5v-5.6M427.2 315.0v5.6M427.2 414.5v-5.6M507.2 315.0v5.6M507.2 414.5v-5.6" stroke="#141414" stroke-width="1.6" fill="none"/>
<rect x="59.2" y="315.0" width="479.90000000000003" height="99.5" fill="none" stroke="#141414" stroke-width="1.6"/>
<clipPath id="c421"><rect x="59.2" y="421.0" width="479.90000000000003" height="99.79999999999995"/></clipPath>
<polyline clip-path="url(#c421)" points="59.0,471.3 59.5,471.3 60.0,471.3 60.5,471.3 61.0,471.3 61.5,471.3 62.0,471.3 62.5,471.3 63.0,471.3 63.5,471.3 64.0,471.3 64.5,471.3 65.0,471.3 65.5,471.3 66.0,471.3 66.5,471.3 67.0,471.3 67.5,471.3 68.0,471.3 68.5,471.3 69.0,471.3 69.5,471.3 70.0,471.3 70.5,471.3 71.0,471.3 71.5,471.3 72.0,471.3 72.5,471.3 73.0,471.2 73.5,471.2 74.0,471.2 74.5,471.1 75.0,471.0 75.5,471.0 76.0,471.0 76.5,471.0 77.0,471.2 77.5,471.4 78.0,471.7 78.5,472.0 79.0,472.3 79.5,472.5 80.0,472.6 80.5,472.6 81.0,472.4 81.5,471.8 82.0,470.6 82.5,469.1 83.0,467.6 83.5,465.9 84.0,464.1 84.5,461.9 85.0,459.3 85.5,456.4 86.0,453.4 86.5,450.4 87.0,447.8 87.5,445.4 88.0,443.1 88.5,441.2 89.0,439.5 89.5,438.2 90.0,437.3 90.5,436.8 91.0,436.8 91.5,437.2 92.0,438.1 92.5,439.4 93.0,441.2 93.5,443.3 94.0,445.9 94.5,449.0 95.0,452.3 95.5,455.8 96.0,459.3 96.5,463.0 97.0,466.7 97.5,470.5 98.0,474.1 98.5,477.6 99.0,480.8 99.5,483.6 100.0,486.0 100.5,488.1 101.0,489.9 101.5,491.5 102.0,492.8 102.5,493.9 103.0,494.6 103.5,495.0 104.0,495.0 104.5,494.6 105.0,493.7 105.5,492.6 106.0,491.2 106.5,489.6 107.0,487.9 107.5,486.0 108.0,484.2 108.5,482.6 109.0,481.3 109.5,480.1 110.0,479.2 110.5,478.4 111.0,477.8 111.5,477.3 112.0,476.9 112.5,476.6 113.0,476.4 113.5,476.3 114.0,476.1 114.5,476.0 115.0,475.9 115.5,475.8 116.0,475.7 116.5,475.6 117.0,475.5 117.5,475.3 118.0,475.1 118.5,475.0 119.0,474.8 119.5,474.6 120.0,474.4 120.5,474.2 121.0,474.0 121.5,473.8 122.0,473.7 122.5,473.5 123.0,473.4 123.5,473.3 124.0,473.1 124.5,473.0 125.0,472.9 125.5,472.8 126.0,472.8 126.5,472.7 127.0,472.6 127.5,472.5 128.0,472.5 128.5,472.4 129.0,472.4 129.5,472.4 130.0,472.4 130.5,472.3 131.0,472.3 131.5,472.3 132.0,472.3 132.5,472.3 133.0,472.3 133.5,472.3 134.0,472.3 134.5,472.3 135.0,472.2 135.5,472.2 136.0,472.2 136.5,472.1 137.0,472.1 137.5,472.1 138.0,472.0 138.5,472.0 139.0,471.9 139.5,471.9 140.0,471.9 140.5,471.8 141.0,471.8 141.5,471.8 142.0,471.7 142.5,471.7 143.0,471.6 143.5,471.6 144.0,471.6 144.5,471.5 145.0,471.5 145.5,471.5 146.0,471.4 146.5,471.4 147.0,471.4 147.5,471.3 148.0,471.3 148.5,471.3 149.0,471.2 149.5,471.2 150.0,471.1 150.5,471.1 151.0,471.1 151.5,471.1 152.0,471.1 152.5,471.1 153.0,471.1 153.5,471.1 154.0,471.1 154.5,471.1 155.0,471.1 155.5,471.1 156.0,471.2 156.5,471.3 157.0,471.5 157.5,471.7 158.0,471.8 158.5,471.9 159.0,471.8 159.5,471.5 160.0,470.5 160.5,468.7 161.0,466.4 161.5,463.5 162.0,460.4 162.5,457.2 163.0,454.3 163.5,451.7 164.0,449.2 164.5,447.1 165.0,445.2 165.5,443.6 166.0,442.3 166.5,441.3 167.0,440.5 167.5,439.9 168.0,439.5 168.5,439.4 169.0,439.5 169.5,439.8 170.0,440.5 170.5,441.4 171.0,442.5 171.5,443.9 172.0,445.7 172.5,447.8 173.0,450.4 173.5,453.5 174.0,457.0 174.5,460.8 175.0,464.9 175.5,469.2 176.0,473.7 176.5,478.3 177.0,482.6 177.5,486.4 178.0,489.7 178.5,492.5 179.0,494.8 179.5,496.6 180.0,497.8 180.5,498.7 181.0,499.2 181.5,499.2 182.0,498.7 182.5,497.7 183.0,496.4 183.5,494.6 184.0,492.5 184.5,490.1 185.0,487.7 185.5,485.6 186.0,483.8 186.5,482.3 187.0,481.0 187.5,480.0 188.0,479.3 188.5,478.7 189.0,478.1 189.5,477.7 190.0,477.3 190.5,476.9 191.0,476.6 191.5,476.3 192.0,476.1 192.5,475.8 193.0,475.6 193.5,475.3 194.0,475.1 194.5,474.9 195.0,474.7 195.5,474.6 196.0,474.5 196.5,474.4 197.0,474.3 197.5,474.1 198.0,474.0 198.5,474.0 199.0,473.9 199.5,473.8 200.0,473.7 200.5,473.6 201.0,473.5 201.5,473.4 202.0,473.3 202.5,473.3 203.0,473.2 203.5,473.1 204.0,473.0 204.5,473.0 205.0,472.9 205.5,472.8 206.0,472.8 206.5,472.7 207.0,472.6 207.5,472.5 208.0,472.5 208.5,472.4 209.0,472.3 209.5,472.3 210.0,472.2 210.5,472.2 211.0,472.1 211.5,472.0 212.0,472.0 212.5,471.9 213.0,471.8 213.5,471.8 214.0,471.7 214.5,471.7 215.0,471.6 215.5,471.6 216.0,471.6 216.5,471.5 217.0,471.5 217.5,471.5 218.0,471.5 218.5,471.5 219.0,471.5 219.5,471.5 220.0,471.4 220.5,471.4 221.0,471.4 221.5,471.4 222.0,471.4 222.5,471.4 223.0,471.4 223.5,471.4 224.0,471.3 224.5,471.3 225.0,471.3 225.5,471.3 226.0,471.3 226.5,471.3 227.0,471.3 227.5,471.3 228.0,471.3 228.5,471.2 229.0,471.2 229.5,471.2 230.0,471.2 230.5,471.2 231.0,471.2 231.5,471.2 232.0,471.2 232.5,471.1 233.0,471.1 233.5,471.1 234.0,471.1 234.5,471.1 235.0,471.1 235.5,471.2 236.0,471.2 236.5,471.3 237.0,471.3 237.5,471.3 238.0,471.2 238.5,471.0 239.0,470.7 239.5,470.3 240.0,469.5 240.5,468.1 241.0,466.2 241.5,464.1 242.0,461.7 242.5,459.3 243.0,457.0 243.5,454.7 244.0,452.5 244.5,450.3 245.0,448.3 245.5,446.3 246.0,444.4 246.5,442.7 247.0,441.3 247.5,439.9 248.0,438.8 248.5,437.9 249.0,437.2 249.5,436.9 250.0,436.8 250.5,437.0 251.0,437.8 251.5,439.1 252.0,440.9 252.5,443.3 253.0,446.5 253.5,450.8 254.0,455.8 254.5,461.0 255.0,466.3 255.5,471.6 256.0,476.7 256.5,481.6 257.0,486.2 257.5,490.1 258.0,493.4 258.5,496.1 259.0,497.8 259.5,498.6 260.0,498.6 260.5,498.1 261.0,496.8 261.5,495.0 262.0,493.0 262.5,490.9 263.0,488.8 263.5,487.0 264.0,485.4 264.5,483.9 265.0,482.5 265.5,481.4 266.0,480.4 266.5,479.5 267.0,478.8 267.5,478.1 268.0,477.6 268.5,477.3 269.0,477.0 269.5,476.7 270.0,476.5 270.5,476.4 271.0,476.2 271.5,476.1 272.0,475.9 272.5,475.8 273.0,475.7 273.5,475.6 274.0,475.5 274.5,475.3 275.0,475.2 275.5,475.0 276.0,474.9 276.5,474.8 277.0,474.7 277.5,474.5 278.0,474.4 278.5,474.3 279.0,474.2 279.5,474.1 280.0,474.0 280.5,473.8 281.0,473.7 281.5,473.6 282.0,473.5 282.5,473.4 283.0,473.3 283.5,473.2 284.0,473.1 284.5,473.0 285.0,472.9 285.5,472.8 286.0,472.8 286.5,472.7 287.0,472.6 287.5,472.5 288.0,472.5 288.5,472.4 289.0,472.3 289.5,472.3 290.0,472.2 290.5,472.2 291.0,472.1 291.5,472.1 292.0,472.0 292.5,472.0 293.0,471.9 293.5,471.9 294.0,471.8 294.5,471.8 295.0,471.7 295.5,471.7 296.0,471.6 296.5,471.6 297.0,471.6 297.5,471.5 298.0,471.5 298.5,471.5 299.0,471.4 299.5,471.4 300.0,471.4 300.5,471.3 301.0,471.3 301.5,471.3 302.0,471.3 302.5,471.2 303.0,471.2 303.5,471.2 304.0,471.2 304.5,471.2 305.0,471.2 305.5,471.2 306.0,471.2 306.5,471.2 307.0,471.2 307.5,471.2 308.0,471.2 308.5,471.2 309.0,471.2 309.5,471.2 310.0,471.2 310.5,471.2 311.0,471.1 311.5,471.1 312.0,471.1 312.5,471.1 313.0,471.1 313.5,471.1 314.0,471.1 314.5,471.1 315.0,471.1 315.5,471.0 316.0,471.0 316.5,471.0 317.0,470.9 317.5,470.9 318.0,470.8 318.5,470.8 319.0,470.7 319.5,470.7 320.0,470.6 320.5,470.6 321.0,470.5 321.5,470.5 322.0,470.5 322.5,470.4 323.0,470.4 323.5,470.4 324.0,470.4 324.5,470.5 325.0,470.6 325.5,470.7 326.0,470.9 326.5,471.1 327.0,471.4 327.5,471.7 328.0,472.1 328.5,472.5 329.0,472.7 329.5,472.8 330.0,472.4 330.5,471.5 331.0,469.8 331.5,467.5 332.0,464.6 332.5,461.5 333.0,458.3 333.5,455.3 334.0,452.5 334.5,449.8 335.0,447.3 335.5,445.1 336.0,443.2 336.5,441.7 337.0,440.5 337.5,439.6 338.0,438.9 338.5,438.5 339.0,438.4 339.5,438.5 340.0,438.7 340.5,439.2 341.0,439.9 341.5,440.9 342.0,442.3 342.5,444.1 343.0,446.4 343.5,449.5 344.0,453.4 344.5,457.8 345.0,462.5 345.5,467.4 346.0,472.5 346.5,477.7 347.0,482.6 347.5,486.9 348.0,490.5 348.5,493.5 349.0,496.0 349.5,497.8 350.0,499.0 350.5,499.7 351.0,499.6 351.5,498.9 352.0,497.7 352.5,496.1 353.0,494.2 353.5,492.0 354.0,489.6 354.5,487.3 355.0,485.2 355.5,483.4 356.0,482.0 356.5,480.8 357.0,479.8 357.5,479.2 358.0,478.6 358.5,478.2 359.0,477.8 359.5,477.5 360.0,477.2 360.5,477.0 361.0,476.8 361.5,476.5 362.0,476.3 362.5,476.1 363.0,475.8 363.5,475.6 364.0,475.4 364.5,475.3 365.0,475.1 365.5,475.0 366.0,474.9 366.5,474.8 367.0,474.7 367.5,474.6 368.0,474.5 368.5,474.4 369.0,474.3 369.5,474.2 370.0,474.1 370.5,474.0 371.0,473.9 371.5,473.8 372.0,473.7 372.5,473.6 373.0,473.5 373.5,473.4 374.0,473.3 374.5,473.2 375.0,473.1 375.5,473.0 376.0,472.9 376.5,472.8 377.0,472.7 377.5,472.6 378.0,472.5 378.5,472.5 379.0,472.4 379.5,472.4 380.0,472.3 380.5,472.3 381.0,472.3 381.5,472.3 382.0,472.3 382.5,472.3 383.0,472.3 383.5,472.3 384.0,472.3 384.5,472.3 385.0,472.3 385.5,472.2 386.0,472.2 386.5,472.2 387.0,472.1 387.5,472.1 388.0,472.1 388.5,472.0 389.0,472.0 389.5,471.9 390.0,471.9 390.5,471.8 391.0,471.8 391.5,471.7 392.0,471.7 392.5,471.6 393.0,471.6 393.5,471.5 394.0,471.5 394.5,471.4 395.0,471.4 395.5,471.3 396.0,471.3 396.5,471.3 397.0,471.2 397.5,471.2 398.0,471.2 398.5,471.1 399.0,471.1 399.5,471.1 400.0,471.1 400.5,471.1 401.0,471.0 401.5,471.0 402.0,471.0 402.5,471.0 403.0,471.0 403.5,471.0 404.0,471.0 404.5,470.9 405.0,470.9 405.5,470.9 406.0,470.9 406.5,470.9 407.0,470.9 407.5,470.9 408.0,470.9 408.5,471.0 409.0,471.0 409.5,471.0 410.0,471.0 410.5,471.0 411.0,471.1 411.5,471.1 412.0,471.2 412.5,471.4 413.0,471.7 413.5,472.0 414.0,472.4 414.5,472.6 415.0,472.6 415.5,472.3 416.0,471.5 416.5,470.0 417.0,468.1 417.5,465.6 418.0,462.9 418.5,460.2 419.0,457.6 419.5,455.1 420.0,452.8 420.5,450.7 421.0,448.8 421.5,447.2 422.0,445.9 422.5,445.0 423.0,444.2 423.5,443.7 424.0,443.3 424.5,443.1 425.0,442.9 425.5,442.9 426.0,442.9 426.5,443.0 427.0,443.3 427.5,443.8 428.0,444.7 428.5,445.9 429.0,447.8 429.5,450.5 430.0,454.0 430.5,458.0 431.0,462.6 431.5,467.4 432.0,472.5 432.5,477.7 433.0,482.6 433.5,486.9 434.0,490.4 434.5,493.5 435.0,496.0 435.5,497.8 436.0,499.0 436.5,499.6 437.0,499.6 437.5,498.8 438.0,497.4 438.5,495.8 439.0,493.9 439.5,491.9 440.0,489.8 440.5,487.7 441.0,485.8 441.5,484.2 442.0,482.8 442.5,481.7 443.0,480.7 443.5,480.0 444.0,479.4 444.5,478.8 445.0,478.2 445.5,477.7 446.0,477.3 446.5,476.9 447.0,476.6 447.5,476.3 448.0,476.1 448.5,475.9 449.0,475.6 449.5,475.4 450.0,475.2 450.5,475.0 451.0,474.8 451.5,474.7 452.0,474.5 452.5,474.3 453.0,474.2 453.5,474.0 454.0,473.9 454.5,473.8 455.0,473.6 455.5,473.5 456.0,473.4 456.5,473.3 457.0,473.1 457.5,473.0 458.0,473.0 458.5,472.9 459.0,472.8 459.5,472.8 460.0,472.7 460.5,472.7 461.0,472.6 461.5,472.6 462.0,472.6 462.5,472.5 463.0,472.5 463.5,472.5 464.0,472.4 464.5,472.4 465.0,472.4 465.5,472.3 466.0,472.3 466.5,472.3 467.0,472.2 467.5,472.2 468.0,472.2 468.5,472.2 469.0,472.1 469.5,472.1 470.0,472.1 470.5,472.1 471.0,472.1 471.5,472.0 472.0,472.0 472.5,472.0 473.0,472.0 473.5,471.9 474.0,471.9 474.5,471.9 475.0,471.9 475.5,471.8 476.0,471.8 476.5,471.8 477.0,471.8 477.5,471.8 478.0,471.7 478.5,471.7 479.0,471.7 479.5,471.7 480.0,471.7 480.5,471.6 481.0,471.6 481.5,471.6 482.0,471.6 482.5,471.6 483.0,471.5 483.5,471.5 484.0,471.5 484.5,471.5 485.0,471.5 485.5,471.4 486.0,471.4 486.5,471.4 487.0,471.4 487.5,471.4 488.0,471.4 488.5,471.3 489.0,471.3 489.5,471.3 490.0,471.3 490.5,471.3 491.0,471.3 491.5,471.3 492.0,471.2 492.5,471.2 493.0,471.2 493.5,471.2 494.0,471.2 494.5,471.2 495.0,471.2 495.5,471.2 496.0,471.2 496.5,471.2 497.0,471.2 497.5,471.2 498.0,471.1 498.5,471.1 499.0,471.1 499.5,471.1 500.0,471.1 500.5,471.1 501.0,471.2 501.5,471.2 502.0,471.3 502.5,471.4 503.0,471.4 503.5,471.4 504.0,471.2 504.5,470.8 505.0,470.1 505.5,469.0 506.0,467.7 506.5,466.3 507.0,464.8 507.5,463.2 508.0,461.6 508.5,459.8 509.0,458.0 509.5,456.2 510.0,454.4 510.5,452.7 511.0,451.2 511.5,449.8 512.0,448.5 512.5,447.3 513.0,446.3 513.5,445.3 514.0,444.5 514.5,443.8 515.0,443.3 515.5,442.9 516.0,442.6 516.5,442.6 517.0,442.7 517.5,443.2 518.0,443.8 518.5,444.8 519.0,446.0 519.5,447.4 520.0,449.2 520.5,451.1 521.0,453.3 521.5,455.6 522.0,458.1 522.5,460.7 523.0,463.5 523.5,466.5 524.0,469.6 524.5,473.1 525.0,477.0 525.5,480.9 526.0,484.8 526.5,488.5 527.0,491.8 527.5,494.6 528.0,496.5 528.5,497.5 529.0,497.9 529.5,498.0 530.0,497.6 530.5,496.5 531.0,494.7 531.5,492.7 532.0,490.7 532.5,488.7 533.0,486.9 533.5,485.1 534.0,483.5 534.5,482.0 535.0,480.9 535.5,480.0 536.0,479.3 536.5,478.7 537.0,478.2 537.5,477.9 538.0,477.6 538.5,477.5 539.0,477.4 539.3,477.4" fill="none" stroke="#0a40c0" stroke-width="1.9" stroke-linejoin="round" stroke-linecap="round"/>
<line x1="82.5" y1="425.9" x2="82.5" y2="520.5" stroke="#c8102e" stroke-width="1.8" stroke-dasharray="12.8 7.75"/>
<line x1="160.9" y1="425.9" x2="160.9" y2="520.5" stroke="#c8102e" stroke-width="1.8" stroke-dasharray="12.8 7.75"/>
<line x1="240.8" y1="425.9" x2="240.8" y2="520.5" stroke="#c8102e" stroke-width="1.8" stroke-dasharray="12.8 7.75"/>
<line x1="331.3" y1="425.9" x2="331.3" y2="520.5" stroke="#c8102e" stroke-width="1.8" stroke-dasharray="12.8 7.75"/>
<line x1="416.85" y1="425.9" x2="416.85" y2="520.5" stroke="#c8102e" stroke-width="1.8" stroke-dasharray="12.8 7.75"/>
<line x1="505.05" y1="425.9" x2="505.05" y2="520.5" stroke="#c8102e" stroke-width="1.8" stroke-dasharray="12.8 7.75"/>
<path d="M59.2 429.5h5.6M539.1 429.5h-5.6M59.2 471.1h5.6M539.1 471.1h-5.6M59.2 512.7h5.6M539.1 512.7h-5.6M139.2 421.0v5.6M139.2 520.8v-5.6M219.2 421.0v5.6M219.2 520.8v-5.6M299.2 421.0v5.6M299.2 520.8v-5.6M379.2 421.0v5.6M379.2 520.8v-5.6M459.2 421.0v5.6M459.2 520.8v-5.6" stroke="#141414" stroke-width="1.6" fill="none"/>
<rect x="59.2" y="421.0" width="479.90000000000003" height="99.79999999999995" fill="none" stroke="#141414" stroke-width="1.6"/>
<text transform="translate(53.3 39.35) scale(1.1 1)" text-anchor="end" class="tk">60</text>
<text transform="translate(53.3 69.45) scale(1.1 1)" text-anchor="end" class="tk">40</text>
<text transform="translate(53.3 99.65) scale(1.1 1)" text-anchor="end" class="tk">20</text>
<text transform="translate(53.3 129.75) scale(1.1 1)" text-anchor="end" class="tk">0</text>
<text transform="translate(53.3 149.45) scale(1.1 1)" text-anchor="end" class="tk">90</text>
<text transform="translate(53.3 221.75) scale(1.1 1)" text-anchor="end" class="tk">86</text>
<text transform="translate(53.3 326.15) scale(1.1 1)" text-anchor="end" class="tk">40</text>
<text transform="translate(53.3 369.45) scale(1.1 1)" text-anchor="end" class="tk">20</text>
<text transform="translate(53.3 412.55) scale(1.1 1)" text-anchor="end" class="tk">0</text>
<text transform="translate(53.3 433.75) scale(1.1 1)" text-anchor="end" class="tk">100</text>
<text transform="translate(53.3 475.35) scale(1.1 1)" text-anchor="end" class="tk">0</text>
<text transform="translate(53.3 516.55) scale(1.1 1)" text-anchor="end" class="tk">-100</text>
<text transform="translate(59.2 254.6) scale(1.1 1)" text-anchor="middle" class="tk">0</text>
<text transform="translate(139.2 254.6) scale(1.1 1)" text-anchor="middle" class="tk">5</text>
<text transform="translate(219.2 254.6) scale(1.1 1)" text-anchor="middle" class="tk">10</text>
<text transform="translate(299.2 254.6) scale(1.1 1)" text-anchor="middle" class="tk">15</text>
<text transform="translate(379.2 254.6) scale(1.1 1)" text-anchor="middle" class="tk">20</text>
<text transform="translate(459.2 254.6) scale(1.1 1)" text-anchor="middle" class="tk">25</text>
<text transform="translate(539.2 254.6) scale(1.1 1)" text-anchor="middle" class="tk">30</text>
<text transform="translate(59.2 539.5) scale(1.1 1)" text-anchor="middle" class="tk">0</text>
<text transform="translate(139.2 539.5) scale(1.1 1)" text-anchor="middle" class="tk">5</text>
<text transform="translate(219.2 539.5) scale(1.1 1)" text-anchor="middle" class="tk">10</text>
<text transform="translate(299.2 539.5) scale(1.1 1)" text-anchor="middle" class="tk">15</text>
<text transform="translate(379.2 539.5) scale(1.1 1)" text-anchor="middle" class="tk">20</text>
<text transform="translate(459.2 539.5) scale(1.1 1)" text-anchor="middle" class="tk">25</text>
<text transform="translate(539.2 539.5) scale(1.1 1)" text-anchor="middle" class="tk">30</text>
<text x="298.7" y="271.8" text-anchor="middle" class="lb" textLength="55.5" lengthAdjust="spacingAndGlyphs">time (s)</text>
<text x="298.9" y="556.9" text-anchor="middle" class="lb" textLength="55.5" lengthAdjust="spacingAndGlyphs">time (s)</text>
<text transform="translate(300.9 17.3) scale(1.12 1)" text-anchor="middle" class="ti">(A)</text>
<text transform="translate(300.9 303.2) scale(1.12 1)" text-anchor="middle" class="ti">(B)</text>
<text transform="translate(18.8 80.0) rotate(-90)" text-anchor="middle" class="lb" textLength="96.4" lengthAdjust="spacingAndGlyphs">CO<tspan class="sub" dy="2.6">2</tspan><tspan dy="-2.6"> (mmHg)</tspan></text>
<text transform="translate(18.8 186.2) rotate(-90)" text-anchor="middle" class="lb" textLength="47" lengthAdjust="spacingAndGlyphs">TI (Ω)</text>
<text transform="translate(18.8 364.9) rotate(-90)" text-anchor="middle" class="lb" textLength="96.4" lengthAdjust="spacingAndGlyphs">CO<tspan class="sub" dy="2.6">2</tspan><tspan dy="-2.6"> (mmHg)</tspan></text>
<text transform="translate(18.8 470.2) rotate(-90)" text-anchor="middle" class="lb" textLength="96.8" lengthAdjust="spacingAndGlyphs">Flow (L/min)</text>
</svg>
</body>
</html>
